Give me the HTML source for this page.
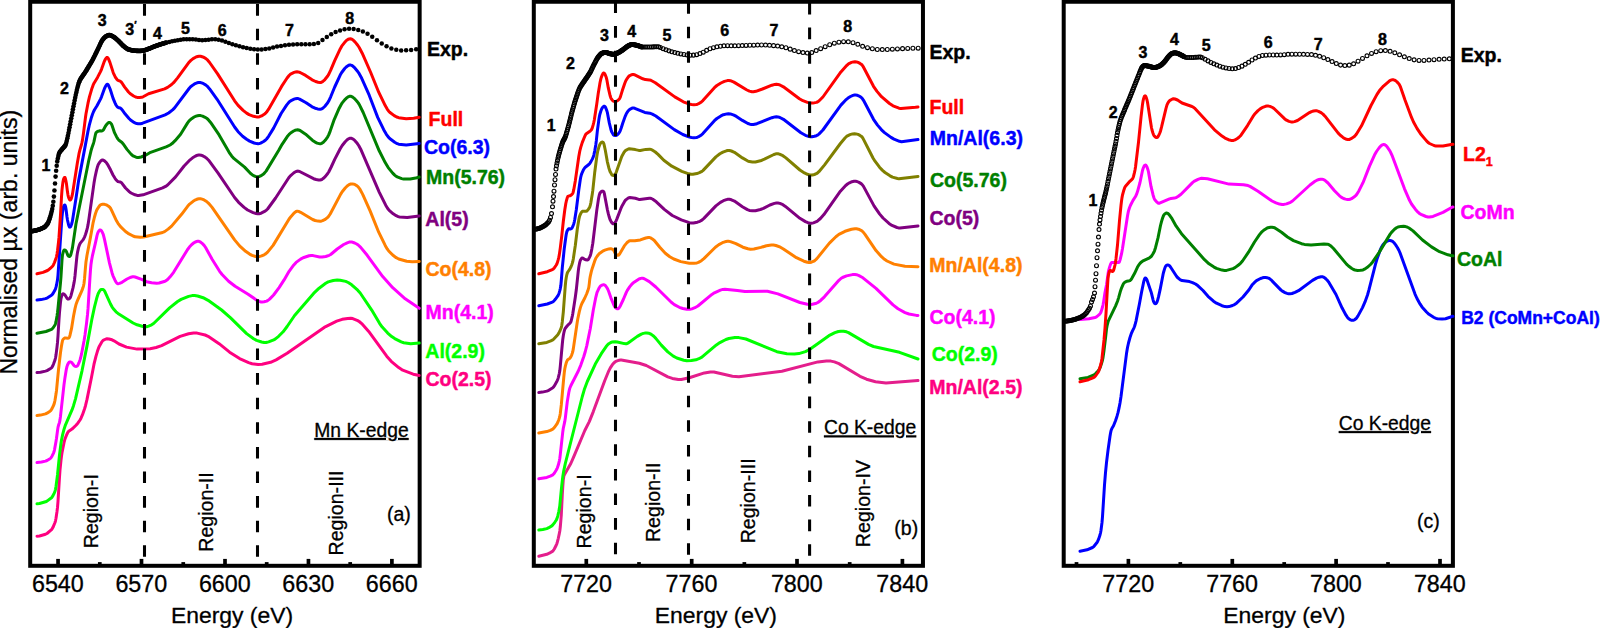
<!DOCTYPE html>
<html lang="en"><head><meta charset="utf-8"><title>XANES Mn and Co K-edge</title>
<style>html,body{margin:0;padding:0;background:#fff}body{width:1600px;height:628px;overflow:hidden}svg{display:block;font-family:'Liberation Sans', sans-serif}</style></head><body>
<svg width="1600" height="628" viewBox="0 0 1600 628">
<rect width="1600" height="628" fill="#fff"/>
<g id="panel-a">
<rect x="30.20" y="1.75" width="389.45" height="564.05" fill="none" stroke="#000" stroke-width="4.0"/>
<line x1="58.05" y1="565.80" x2="58.05" y2="558.90" stroke="#000" stroke-width="3.7"/>
<line x1="141.50" y1="565.80" x2="141.50" y2="558.90" stroke="#000" stroke-width="3.7"/>
<line x1="225.00" y1="565.80" x2="225.00" y2="558.90" stroke="#000" stroke-width="3.7"/>
<line x1="308.45" y1="565.80" x2="308.45" y2="558.90" stroke="#000" stroke-width="3.7"/>
<line x1="391.90" y1="565.80" x2="391.90" y2="558.90" stroke="#000" stroke-width="3.7"/>
<line x1="99.80" y1="565.80" x2="99.80" y2="562.10" stroke="#000" stroke-width="3.7"/>
<line x1="183.25" y1="565.80" x2="183.25" y2="562.10" stroke="#000" stroke-width="3.7"/>
<line x1="266.70" y1="565.80" x2="266.70" y2="562.10" stroke="#000" stroke-width="3.7"/>
<line x1="350.20" y1="565.80" x2="350.20" y2="562.10" stroke="#000" stroke-width="3.7"/>
<path d="M37.0 536.2 39.5 536.0 45.5 534.3 47.0 533.5 51.5 529.7 52.0 529.1 53.0 527.3 55.0 522.5 55.5 520.8 56.0 518.3 57.0 511.5 57.5 507.4 58.0 501.4 59.5 477.0 60.0 469.9 61.0 460.1 61.5 456.1 62.0 452.7 64.0 442.7 65.0 438.9 66.5 435.1 67.5 433.0 68.0 432.1 68.5 431.5 69.5 430.7 72.0 429.1 76.0 425.2 78.0 422.9 80.0 420.0 81.0 418.2 82.5 414.7 84.5 409.0 85.5 405.7 87.0 399.4 91.5 377.2 94.0 364.2 96.0 356.1 97.5 351.1 98.5 348.2 99.5 345.9 101.5 342.4 102.5 341.0 103.0 340.5 103.5 340.1 106.0 339.0 107.0 338.8 109.0 339.0 112.0 339.8 114.0 340.8 119.0 344.0 126.5 347.1 137.1 349.1 150.1 348.7 156.1 347.5 161.6 345.6 180.1 336.4 188.6 333.8 193.6 333.0 197.1 333.1 205.1 335.0 208.1 336.3 219.1 343.7 229.6 352.2 239.6 358.6 248.6 362.6 252.1 363.7 258.1 364.5 262.1 364.3 270.6 362.3 276.1 359.9 287.1 353.2 324.2 327.4 336.7 321.2 342.2 319.3 347.7 318.4 350.7 318.3 352.7 318.6 357.7 320.6 359.2 321.5 361.7 323.6 368.7 331.4 386.7 356.2 391.2 361.3 398.7 367.6 402.7 370.2 413.2 374.2 418.2 375.3 419.2 375.4" fill="none" stroke="#ff0080" stroke-width="3.00" stroke-linejoin="round" stroke-linecap="round"/>
<path d="M37.0 503.8 39.5 503.5 45.5 501.8 47.0 501.1 51.5 497.8 52.0 497.2 53.0 495.7 54.0 493.7 55.0 491.2 55.5 489.3 56.0 486.5 57.5 474.9 59.5 454.9 61.0 443.3 61.5 440.1 62.5 435.2 64.0 429.4 65.5 424.8 72.0 409.9 73.5 405.7 75.5 398.8 82.0 370.8 87.0 345.9 92.0 318.6 94.5 306.9 97.0 297.2 98.0 294.1 98.5 292.9 99.5 291.2 100.0 290.5 100.5 289.9 101.0 289.6 101.5 289.4 102.0 289.4 102.5 289.4 103.0 289.5 103.5 289.8 104.0 290.3 104.5 290.9 105.0 291.8 110.5 304.0 112.0 306.8 114.0 309.6 116.0 311.8 118.0 313.4 133.1 323.0 137.1 324.8 142.1 326.3 145.1 326.8 146.6 326.7 148.6 326.1 151.6 324.8 153.6 323.5 169.6 307.9 177.6 301.5 181.1 299.4 188.6 296.4 192.1 295.6 194.6 295.5 197.6 296.0 203.1 297.7 208.1 300.3 221.6 310.0 230.6 317.9 246.6 333.6 253.6 338.8 256.6 340.4 261.6 342.0 264.1 342.5 266.1 342.5 268.6 341.9 273.1 340.2 275.1 339.1 278.6 336.3 283.1 331.8 287.1 326.5 294.6 315.5 313.6 293.4 319.1 288.2 325.7 283.3 328.2 281.9 333.2 280.5 337.2 280.0 340.2 280.2 345.7 281.4 348.2 282.5 351.7 284.8 357.7 290.2 360.2 293.0 371.7 310.1 379.7 323.6 382.2 327.1 387.7 333.1 391.7 336.6 394.7 338.6 401.2 341.9 403.7 342.7 410.7 343.7 419.2 343.1" fill="none" stroke="#00ff00" stroke-width="3.00" stroke-linejoin="round" stroke-linecap="round"/>
<path d="M37.0 462.5 41.5 462.0 45.5 461.1 47.0 460.5 50.0 458.7 50.5 458.3 51.0 457.8 52.0 456.2 53.5 453.1 54.0 451.8 54.5 449.8 56.0 441.4 56.5 438.3 57.5 430.8 58.0 427.4 58.5 425.3 59.5 422.4 60.0 419.9 60.5 416.2 64.0 384.6 65.0 377.4 66.0 371.3 66.5 368.6 67.0 366.4 67.5 365.0 68.5 363.0 69.0 362.3 69.5 362.0 70.5 362.0 71.0 362.1 71.5 362.3 72.0 362.8 74.0 365.5 74.5 366.0 75.0 366.3 75.5 366.4 76.0 366.5 76.5 366.4 77.0 366.2 77.5 365.8 78.0 365.0 79.0 362.7 80.0 359.9 80.5 358.3 81.5 354.2 84.0 341.0 85.0 334.9 86.5 323.6 87.5 314.7 88.0 308.9 90.0 276.8 90.5 269.7 91.0 264.2 91.5 260.7 92.5 255.3 95.5 242.6 97.0 235.6 97.5 233.8 98.0 232.4 98.5 231.5 99.0 230.7 99.5 230.2 100.0 230.0 100.5 230.0 101.0 230.3 101.5 230.9 102.0 231.7 103.0 233.8 103.5 235.3 104.5 239.4 109.5 263.1 112.0 272.7 113.0 275.8 115.0 280.2 116.0 282.0 116.5 282.8 117.0 283.3 117.5 283.7 118.0 283.7 119.5 283.4 122.0 282.3 127.0 279.0 131.0 277.2 132.6 276.8 133.6 276.7 135.1 277.0 141.6 279.4 146.6 281.7 151.6 282.8 156.6 283.3 159.1 283.0 165.1 281.2 166.1 280.7 167.6 279.5 170.1 276.8 173.6 272.3 187.6 249.5 189.6 246.8 191.1 245.2 193.6 243.0 195.1 242.1 196.6 241.5 197.6 241.3 198.6 241.3 199.6 241.6 200.6 242.1 202.1 243.3 204.1 245.4 205.6 247.5 212.1 259.3 219.6 271.3 222.1 274.5 228.6 281.2 235.1 286.3 248.1 294.2 257.1 300.4 259.1 301.4 260.6 301.9 262.1 302.0 264.1 301.8 266.6 301.1 267.6 300.6 269.6 299.1 273.6 295.0 279.1 287.6 284.1 279.9 289.1 271.3 293.6 265.2 296.1 262.4 300.6 259.1 303.1 257.7 309.1 255.8 311.1 255.5 313.1 255.6 319.6 257.0 322.1 257.0 325.7 256.5 329.2 255.3 330.7 254.5 337.2 249.0 343.7 244.5 347.2 242.8 349.2 242.1 350.7 242.0 352.2 242.1 354.7 243.0 356.7 244.0 358.2 245.0 360.7 247.4 367.2 255.3 382.7 276.6 392.7 287.7 405.2 298.8 419.2 308.3" fill="none" stroke="#ff00ff" stroke-width="3.00" stroke-linejoin="round" stroke-linecap="round"/>
<path d="M37.0 415.5 40.5 415.1 45.5 413.9 47.0 413.2 50.0 411.2 50.5 410.8 51.0 410.2 52.0 408.6 53.5 405.5 54.0 404.3 54.5 402.5 55.0 400.2 56.0 394.1 56.5 390.5 58.5 369.7 60.5 352.5 61.5 345.9 62.0 343.1 62.5 340.7 63.0 339.5 64.0 338.5 64.5 338.2 65.0 338.0 65.5 337.9 68.0 338.2 68.5 338.1 69.0 337.8 69.5 336.8 70.0 335.2 71.5 328.7 73.5 316.3 75.0 308.6 76.0 304.5 77.0 301.7 82.0 290.4 83.0 287.6 83.5 285.9 84.0 283.5 84.5 278.9 85.5 266.9 86.0 261.7 87.0 255.2 90.5 237.1 93.0 223.2 94.5 217.0 95.5 213.5 96.5 210.7 97.0 209.6 99.0 206.5 100.0 205.3 100.5 204.8 101.0 204.6 102.5 204.3 104.0 204.3 105.5 204.6 107.0 205.2 108.5 206.2 110.0 207.5 110.5 208.2 111.5 210.1 116.5 220.8 118.0 223.3 120.5 226.7 125.5 231.5 128.0 233.3 133.1 236.0 135.1 236.8 140.1 237.3 143.6 237.0 162.6 232.5 164.6 231.6 168.1 229.1 171.6 226.1 181.6 214.3 187.6 206.3 189.6 204.1 193.1 201.3 195.6 199.8 197.6 199.0 199.1 198.7 200.6 198.8 202.1 199.1 204.1 199.9 206.6 201.5 208.6 203.3 212.1 207.4 234.6 239.9 239.6 245.9 245.6 251.3 249.6 254.1 252.1 255.4 255.6 256.5 257.6 256.8 259.1 256.6 261.6 255.9 264.1 254.8 265.6 253.9 267.6 252.1 273.1 245.4 289.1 219.0 291.1 216.4 294.1 213.1 295.1 212.2 296.1 211.5 296.6 211.3 297.1 211.2 297.6 211.2 298.6 211.4 300.6 212.3 312.6 219.5 315.1 220.5 318.1 221.1 320.1 221.3 321.1 221.2 322.6 220.7 324.7 219.7 327.7 217.4 328.7 216.3 330.2 214.0 340.7 194.1 342.2 191.7 345.2 188.0 347.2 186.0 348.7 184.9 349.7 184.4 350.7 184.0 351.7 183.9 352.7 183.9 353.7 184.1 355.2 184.7 356.7 185.6 357.7 186.4 358.7 187.5 360.2 189.7 362.7 194.4 370.2 211.1 378.7 232.2 385.2 245.4 387.2 248.9 388.7 251.0 392.7 255.0 396.2 257.7 398.7 259.0 406.7 261.3 412.2 261.8 419.2 261.4" fill="none" stroke="#ff8000" stroke-width="3.00" stroke-linejoin="round" stroke-linecap="round"/>
<path d="M37.0 372.5 40.5 372.2 45.5 371.1 47.0 370.6 51.0 368.2 51.5 367.8 52.0 367.2 52.5 366.3 53.5 364.1 55.0 360.0 55.5 358.0 56.0 355.1 57.0 347.1 57.5 342.4 58.0 335.9 59.0 319.2 59.5 312.4 60.5 302.1 61.0 298.5 61.5 296.7 62.0 295.2 62.5 294.1 63.0 293.8 63.5 293.9 64.0 294.2 64.5 294.5 65.0 295.0 67.0 298.2 67.5 298.8 68.0 299.1 68.5 299.1 69.0 298.9 69.5 298.5 70.0 298.0 70.5 297.1 71.0 295.6 73.0 287.9 74.0 282.9 74.5 279.9 75.0 275.9 76.5 260.3 77.0 255.7 77.5 252.4 78.5 247.9 79.0 246.2 79.5 244.8 80.0 243.7 80.5 242.9 83.0 239.9 83.5 239.2 84.5 237.1 85.5 234.5 86.5 231.3 87.5 227.4 88.0 224.9 89.0 218.6 94.0 183.1 95.0 177.3 96.5 170.4 97.5 166.7 98.0 165.2 98.5 164.1 100.0 161.9 101.0 160.7 101.5 160.3 102.0 160.0 102.5 160.0 103.5 160.3 104.5 160.9 105.5 161.8 106.5 162.8 107.5 164.3 110.5 169.8 113.0 175.0 115.0 178.3 116.5 180.3 117.5 181.3 118.0 181.6 119.0 181.8 120.0 181.9 120.5 182.1 121.0 182.3 122.0 183.3 125.5 188.0 129.5 191.8 131.0 193.0 135.1 194.8 137.1 195.4 138.6 195.5 143.1 194.8 162.6 187.9 165.6 186.4 167.6 185.0 175.6 176.9 184.1 166.0 190.1 159.8 192.6 157.8 195.6 156.0 197.6 155.2 198.6 155.0 199.6 155.0 201.1 155.2 203.1 156.0 205.1 157.1 206.6 158.2 208.6 160.2 218.1 173.2 234.6 197.5 238.6 202.3 244.1 207.4 247.6 210.0 253.1 212.6 256.1 213.5 257.6 213.8 259.1 213.7 261.1 213.2 265.1 211.2 266.1 210.4 267.6 209.0 275.6 198.0 288.6 178.0 290.1 176.1 293.6 173.0 295.1 172.0 296.1 171.5 297.1 171.2 298.1 171.1 299.6 171.5 313.6 178.7 316.1 179.5 318.6 180.0 320.1 180.0 321.1 179.8 322.1 179.3 323.1 178.6 325.2 176.6 327.7 173.5 328.7 172.0 331.2 167.0 334.7 159.4 340.2 148.7 342.2 145.5 345.2 141.7 346.7 140.2 348.2 139.0 349.2 138.5 350.2 138.2 351.2 138.3 352.2 138.6 353.2 139.2 354.7 140.4 357.2 143.3 358.7 145.5 360.7 149.2 379.2 192.1 385.7 205.2 387.7 208.5 389.2 210.4 393.2 213.8 396.2 215.7 398.2 216.6 399.7 217.0 407.2 217.6 419.2 215.9" fill="none" stroke="#800080" stroke-width="3.00" stroke-linejoin="round" stroke-linecap="round"/>
<path d="M37.0 333.2 46.0 331.5 51.5 329.4 52.0 329.0 53.0 328.0 55.0 325.0 55.5 323.7 56.0 321.7 57.0 315.9 57.5 312.4 58.0 308.2 60.5 282.6 61.0 276.5 62.0 259.8 62.5 254.9 63.0 252.8 63.5 251.2 64.0 250.2 64.5 250.0 65.0 250.2 65.5 250.4 66.0 250.9 66.5 251.8 67.5 254.5 68.0 255.5 68.5 256.1 69.0 256.4 69.5 256.5 70.0 256.2 70.5 255.5 71.0 254.0 72.0 249.9 72.5 247.4 76.0 223.8 89.0 159.3 91.0 150.8 92.0 147.5 93.5 143.2 94.0 141.4 95.5 134.3 96.0 132.8 96.5 132.2 97.5 131.5 98.5 131.1 100.0 130.7 102.0 130.9 102.5 130.7 103.0 130.3 103.5 129.7 105.5 126.1 106.0 125.3 107.5 123.5 108.5 122.6 109.0 122.4 109.5 122.4 110.0 122.6 110.5 123.0 111.0 123.5 111.5 124.2 112.0 125.3 114.5 132.7 116.5 136.7 118.0 139.1 119.0 140.3 122.0 142.5 123.0 143.7 127.0 149.4 131.0 154.1 132.6 155.5 133.6 156.2 136.1 157.2 137.6 157.5 138.6 157.5 141.1 157.0 145.6 155.2 150.6 152.3 166.1 146.9 170.1 145.0 172.1 143.6 175.1 140.7 180.6 134.3 187.6 122.9 189.1 120.9 191.6 118.7 194.1 117.0 196.1 116.1 197.6 115.7 199.1 115.5 200.6 115.6 202.6 116.1 205.1 117.3 206.6 118.2 208.1 119.5 210.6 122.4 219.1 134.9 229.1 152.3 231.6 155.9 234.1 158.7 244.6 167.1 250.6 173.5 252.1 174.7 254.1 175.9 255.6 176.5 257.1 176.7 258.1 176.7 259.1 176.5 260.6 175.9 263.6 173.9 264.6 172.9 266.1 171.1 278.6 150.5 282.1 144.3 287.1 136.8 289.1 134.4 290.6 133.0 293.6 131.0 295.1 130.3 296.6 129.9 297.6 129.8 298.6 130.0 300.1 130.5 305.6 134.2 312.6 140.4 315.1 142.1 317.1 143.1 319.1 143.6 320.1 143.8 320.6 143.7 321.6 143.4 322.6 142.8 323.6 142.0 325.2 140.3 327.7 136.8 328.7 134.9 330.2 131.1 334.2 119.6 339.2 108.2 341.2 104.5 342.2 102.9 345.2 99.3 346.7 97.9 347.7 97.1 348.7 96.6 349.7 96.3 350.7 96.3 351.7 96.6 352.7 97.1 354.2 98.3 356.7 101.0 358.2 102.9 359.7 105.3 363.2 112.5 379.2 150.8 385.2 162.6 388.2 167.6 392.7 173.1 394.7 175.1 396.2 176.3 397.2 176.9 401.7 178.6 403.7 179.1 410.2 179.0 415.7 178.1 419.2 177.0" fill="none" stroke="#008000" stroke-width="3.00" stroke-linejoin="round" stroke-linecap="round"/>
<path d="M37.0 300.0 41.0 299.6 45.5 298.6 47.5 297.8 51.5 295.3 52.0 294.8 53.0 293.5 55.0 290.0 55.5 288.9 56.0 287.2 56.5 285.2 57.5 279.9 58.0 275.1 61.5 223.9 62.0 217.2 62.5 212.4 63.0 209.2 63.5 206.8 64.0 205.5 64.5 205.0 65.0 205.2 65.5 206.3 66.0 209.0 67.0 217.0 67.5 220.1 68.5 224.5 69.0 226.1 69.5 227.0 70.0 227.2 70.5 226.8 71.0 225.8 71.5 224.5 72.0 222.7 72.5 220.4 76.0 198.3 78.5 181.4 88.0 131.1 89.5 124.3 91.5 117.2 92.5 114.2 93.5 111.7 94.5 109.8 97.0 105.8 100.5 99.1 101.5 96.8 104.5 88.5 105.5 86.4 106.0 85.5 106.5 84.8 107.0 84.3 107.5 84.3 108.0 84.6 108.5 85.4 110.0 88.8 111.0 91.7 113.0 98.1 115.0 102.9 116.0 105.0 117.0 106.5 117.5 107.0 118.0 107.4 119.0 107.8 120.0 108.0 120.5 108.2 121.0 108.6 122.0 109.7 125.0 113.8 129.0 118.5 130.5 119.9 134.1 122.4 135.6 123.2 136.6 123.6 138.1 123.8 140.6 123.7 142.6 123.2 165.1 114.9 168.6 113.0 172.6 109.9 174.6 107.9 189.1 88.5 190.6 86.8 193.1 84.9 195.1 83.6 197.1 82.8 198.6 82.5 200.1 82.5 201.6 82.9 203.6 83.7 205.6 84.9 207.1 86.1 209.6 88.9 217.1 99.3 234.6 127.0 238.1 131.7 242.6 136.2 246.6 139.3 249.6 141.1 254.1 143.0 256.6 143.6 258.1 143.8 259.1 143.6 260.6 143.1 263.6 141.5 265.6 140.0 266.6 139.0 268.6 136.3 273.6 128.1 281.1 113.5 286.6 105.1 288.6 102.6 290.1 101.2 291.1 100.6 294.1 99.2 295.6 98.7 297.1 98.5 298.1 98.6 299.6 99.1 306.1 102.7 312.1 106.8 315.1 108.2 317.6 108.9 320.1 109.3 321.1 109.1 322.1 108.6 323.1 108.0 324.7 106.5 327.7 102.8 328.7 101.1 330.7 96.8 334.7 87.0 340.2 75.1 341.7 72.5 344.7 68.5 346.2 67.0 347.7 65.8 348.7 65.3 349.7 65.0 350.7 65.1 351.7 65.4 352.7 66.0 354.2 67.3 357.7 71.5 359.2 73.7 361.7 78.3 369.2 95.2 377.7 117.4 383.7 129.7 386.2 134.1 388.2 136.9 389.7 138.5 394.7 142.3 397.2 143.7 398.7 144.2 406.2 145.1 419.2 143.4" fill="none" stroke="#0000ff" stroke-width="3.00" stroke-linejoin="round" stroke-linecap="round"/>
<path d="M37.0 273.8 43.0 272.4 47.5 270.5 48.5 269.9 50.5 268.2 52.5 266.2 53.0 265.6 53.5 264.7 54.5 262.5 56.0 258.2 56.5 256.6 57.0 254.0 57.5 250.7 58.5 242.2 59.0 237.2 60.5 214.8 61.5 196.8 62.0 189.9 62.5 185.4 63.0 181.8 63.5 179.4 64.0 178.2 64.5 177.4 65.0 177.5 65.5 179.0 66.0 181.3 66.5 184.1 67.5 192.1 68.0 195.1 68.5 197.0 69.0 198.5 69.5 199.6 70.0 200.0 70.5 199.8 71.0 199.1 71.5 197.9 72.0 196.2 72.5 193.9 73.5 187.6 77.5 161.9 79.0 153.7 80.0 149.7 81.5 144.5 82.0 142.4 82.5 139.9 83.5 133.1 85.5 117.2 86.0 113.8 88.0 103.2 89.5 96.7 92.0 88.2 93.0 85.4 94.0 83.2 97.5 77.4 100.5 71.6 101.5 69.3 104.0 62.2 104.5 61.0 105.5 59.0 106.0 58.3 106.5 57.7 107.0 57.4 107.5 57.5 108.0 58.0 108.5 58.9 110.0 62.6 113.0 71.9 113.5 73.3 115.0 76.4 116.0 78.2 117.0 79.5 117.5 80.0 118.0 80.4 120.0 81.2 120.5 81.4 121.0 81.8 122.0 83.0 124.5 86.9 128.5 92.0 130.0 93.5 133.6 96.0 135.6 97.0 137.1 97.4 139.6 97.5 141.6 97.3 143.1 96.8 148.6 93.8 164.6 88.9 167.6 87.4 171.6 84.5 173.6 82.7 177.6 77.9 189.1 62.2 190.6 60.6 193.1 58.6 195.6 57.2 197.6 56.5 199.1 56.2 200.6 56.3 202.1 56.7 204.1 57.5 205.6 58.4 207.1 59.6 209.6 62.5 217.6 73.9 234.6 100.8 238.1 105.4 243.1 110.4 246.6 113.1 249.1 114.6 253.6 116.3 256.6 116.9 258.1 117.0 259.6 116.7 261.6 115.9 264.6 114.0 265.6 113.2 266.6 112.1 268.6 109.2 281.6 86.4 287.1 78.0 289.1 75.5 290.1 74.5 291.1 73.8 294.1 72.4 295.6 72.0 297.1 71.8 298.1 71.9 300.1 72.5 305.6 75.4 312.1 79.8 315.6 81.5 318.1 82.2 320.1 82.5 321.1 82.4 322.1 81.9 323.1 81.2 324.7 79.8 327.7 76.0 328.7 74.4 330.7 70.2 334.7 60.7 340.2 48.9 341.7 46.2 344.7 42.3 346.2 40.7 347.2 39.9 348.2 39.2 349.2 38.9 350.2 38.8 351.2 39.0 352.2 39.4 353.2 40.2 355.2 42.1 357.7 45.2 359.2 47.5 362.2 53.2 370.7 72.5 378.7 92.2 385.2 105.6 387.2 109.1 388.7 111.2 389.7 112.2 394.2 115.6 396.7 117.0 398.7 117.7 406.2 118.7 413.7 118.2 419.2 117.2" fill="none" stroke="#ff0000" stroke-width="3.00" stroke-linejoin="round" stroke-linecap="round"/>
<g fill="#000">
<circle cx="31.50" cy="231.23" r="2.3"/><circle cx="32.06" cy="231.17" r="2.3"/><circle cx="32.62" cy="231.09" r="2.3"/><circle cx="33.18" cy="230.99" r="2.3"/><circle cx="33.74" cy="230.89" r="2.3"/><circle cx="34.30" cy="230.77" r="2.3"/><circle cx="34.86" cy="230.64" r="2.3"/><circle cx="35.42" cy="230.51" r="2.3"/><circle cx="35.98" cy="230.37" r="2.3"/><circle cx="36.54" cy="230.23" r="2.3"/><circle cx="37.10" cy="230.10" r="2.3"/><circle cx="37.66" cy="229.96" r="2.3"/><circle cx="38.22" cy="229.81" r="2.3"/><circle cx="38.78" cy="229.64" r="2.3"/><circle cx="39.34" cy="229.44" r="2.3"/><circle cx="39.90" cy="229.23" r="2.3"/><circle cx="40.46" cy="229.01" r="2.3"/><circle cx="41.02" cy="228.77" r="2.3"/><circle cx="41.58" cy="228.52" r="2.3"/><circle cx="42.14" cy="228.27" r="2.3"/><circle cx="42.70" cy="228.00" r="2.3"/><circle cx="43.26" cy="227.74" r="2.3"/><circle cx="43.82" cy="227.47" r="2.3"/><circle cx="44.38" cy="227.13" r="2.3"/><circle cx="44.94" cy="226.69" r="2.3"/><circle cx="45.50" cy="226.16" r="2.3"/><circle cx="46.06" cy="225.55" r="2.3"/><circle cx="46.62" cy="224.89" r="2.3"/><circle cx="47.18" cy="224.17" r="2.3"/><circle cx="47.74" cy="223.38" r="2.3"/><circle cx="48.30" cy="222.25" r="2.3"/><circle cx="48.86" cy="220.81" r="2.3"/><circle cx="49.42" cy="219.20" r="2.3"/><circle cx="49.98" cy="217.56" r="2.3"/><circle cx="50.54" cy="215.79" r="2.3"/><circle cx="51.10" cy="213.73" r="2.3"/><circle cx="51.66" cy="211.46" r="2.3"/><circle cx="52.22" cy="208.97" r="2.3"/><circle cx="52.78" cy="205.75" r="2.3"/><circle cx="53.34" cy="201.81" r="2.3"/><circle cx="53.90" cy="196.58" r="2.3"/><circle cx="54.46" cy="190.45" r="2.3"/><circle cx="55.02" cy="183.48" r="2.3"/><circle cx="55.58" cy="176.62" r="2.3"/><circle cx="56.14" cy="170.79" r="2.3"/><circle cx="56.70" cy="165.79" r="2.3"/><circle cx="57.26" cy="161.40" r="2.3"/><circle cx="57.82" cy="158.44" r="2.3"/><circle cx="58.38" cy="155.90" r="2.3"/><circle cx="58.94" cy="153.83" r="2.3"/><circle cx="59.50" cy="152.50" r="2.3"/><circle cx="60.06" cy="151.69" r="2.3"/><circle cx="60.62" cy="150.97" r="2.3"/><circle cx="61.18" cy="150.30" r="2.3"/><circle cx="61.74" cy="149.66" r="2.3"/><circle cx="62.30" cy="149.00" r="2.3"/><circle cx="62.86" cy="148.32" r="2.3"/><circle cx="63.42" cy="147.69" r="2.3"/><circle cx="63.98" cy="147.07" r="2.3"/><circle cx="64.54" cy="146.40" r="2.3"/><circle cx="65.10" cy="145.64" r="2.3"/><circle cx="65.66" cy="144.68" r="2.3"/><circle cx="66.22" cy="143.00" r="2.3"/><circle cx="66.78" cy="140.71" r="2.3"/><circle cx="67.34" cy="138.20" r="2.3"/><circle cx="67.90" cy="135.69" r="2.3"/><circle cx="68.46" cy="132.98" r="2.3"/><circle cx="69.02" cy="130.11" r="2.3"/><circle cx="69.58" cy="127.19" r="2.3"/><circle cx="70.14" cy="124.27" r="2.3"/><circle cx="70.70" cy="121.31" r="2.3"/><circle cx="71.26" cy="118.28" r="2.3"/><circle cx="71.82" cy="115.22" r="2.3"/><circle cx="72.38" cy="112.18" r="2.3"/><circle cx="72.94" cy="109.18" r="2.3"/><circle cx="73.50" cy="106.26" r="2.3"/><circle cx="74.06" cy="103.44" r="2.3"/><circle cx="74.62" cy="100.61" r="2.3"/><circle cx="75.18" cy="97.81" r="2.3"/><circle cx="75.74" cy="95.07" r="2.3"/><circle cx="76.30" cy="92.46" r="2.3"/><circle cx="76.86" cy="90.01" r="2.3"/><circle cx="77.42" cy="87.80" r="2.3"/><circle cx="77.98" cy="85.77" r="2.3"/><circle cx="78.54" cy="83.86" r="2.3"/><circle cx="79.10" cy="82.14" r="2.3"/><circle cx="79.66" cy="80.70" r="2.3"/><circle cx="80.22" cy="79.60" r="2.3"/><circle cx="80.78" cy="78.64" r="2.3"/><circle cx="81.34" cy="77.76" r="2.3"/><circle cx="81.90" cy="76.93" r="2.3"/><circle cx="82.46" cy="76.15" r="2.3"/><circle cx="83.02" cy="75.37" r="2.3"/><circle cx="83.58" cy="74.60" r="2.3"/><circle cx="84.14" cy="73.81" r="2.3"/><circle cx="84.70" cy="72.97" r="2.3"/><circle cx="85.26" cy="72.08" r="2.3"/><circle cx="85.82" cy="71.19" r="2.3"/><circle cx="86.38" cy="70.29" r="2.3"/><circle cx="86.94" cy="69.39" r="2.3"/><circle cx="87.50" cy="68.49" r="2.3"/><circle cx="88.06" cy="67.58" r="2.3"/><circle cx="88.62" cy="66.67" r="2.3"/><circle cx="89.18" cy="65.74" r="2.3"/><circle cx="89.74" cy="64.81" r="2.3"/><circle cx="90.30" cy="63.87" r="2.3"/><circle cx="90.86" cy="62.91" r="2.3"/><circle cx="91.42" cy="61.93" r="2.3"/><circle cx="91.98" cy="60.94" r="2.3"/><circle cx="92.54" cy="59.93" r="2.3"/><circle cx="93.10" cy="58.88" r="2.3"/><circle cx="93.66" cy="57.80" r="2.3"/><circle cx="94.22" cy="56.69" r="2.3"/><circle cx="94.78" cy="55.56" r="2.3"/><circle cx="95.34" cy="54.41" r="2.3"/><circle cx="95.90" cy="53.26" r="2.3"/><circle cx="96.46" cy="52.11" r="2.3"/><circle cx="97.02" cy="50.97" r="2.3"/><circle cx="97.58" cy="49.84" r="2.3"/><circle cx="98.14" cy="48.68" r="2.3"/><circle cx="98.70" cy="47.47" r="2.3"/><circle cx="99.26" cy="46.24" r="2.3"/><circle cx="99.82" cy="45.01" r="2.3"/><circle cx="100.38" cy="43.81" r="2.3"/><circle cx="100.94" cy="42.67" r="2.3"/><circle cx="101.50" cy="41.61" r="2.3"/><circle cx="102.06" cy="40.66" r="2.3"/><circle cx="102.62" cy="39.83" r="2.3"/><circle cx="103.18" cy="39.10" r="2.3"/><circle cx="103.74" cy="38.42" r="2.3"/><circle cx="104.30" cy="37.81" r="2.3"/><circle cx="104.86" cy="37.27" r="2.3"/><circle cx="105.42" cy="36.81" r="2.3"/><circle cx="105.98" cy="36.41" r="2.3"/><circle cx="106.54" cy="36.08" r="2.3"/><circle cx="107.10" cy="35.75" r="2.3"/><circle cx="107.66" cy="35.44" r="2.3"/><circle cx="108.22" cy="35.18" r="2.3"/><circle cx="108.78" cy="35.03" r="2.3"/><circle cx="109.34" cy="35.01" r="2.3"/><circle cx="109.90" cy="35.09" r="2.3"/><circle cx="110.46" cy="35.24" r="2.3"/><circle cx="111.02" cy="35.46" r="2.3"/><circle cx="111.58" cy="35.72" r="2.3"/><circle cx="112.14" cy="36.02" r="2.3"/><circle cx="112.70" cy="36.35" r="2.3"/><circle cx="113.26" cy="36.69" r="2.3"/><circle cx="113.82" cy="37.04" r="2.3"/><circle cx="114.38" cy="37.42" r="2.3"/><circle cx="114.94" cy="37.84" r="2.3"/><circle cx="115.50" cy="38.29" r="2.3"/><circle cx="116.06" cy="38.77" r="2.3"/><circle cx="116.62" cy="39.27" r="2.3"/><circle cx="117.18" cy="39.79" r="2.3"/><circle cx="117.74" cy="40.31" r="2.3"/><circle cx="118.30" cy="40.83" r="2.3"/><circle cx="118.86" cy="41.35" r="2.3"/><circle cx="119.42" cy="41.90" r="2.3"/><circle cx="119.98" cy="42.47" r="2.3"/><circle cx="120.54" cy="43.06" r="2.3"/><circle cx="121.10" cy="43.66" r="2.3"/><circle cx="121.66" cy="44.26" r="2.3"/><circle cx="122.22" cy="44.84" r="2.3"/><circle cx="122.78" cy="45.39" r="2.3"/><circle cx="123.34" cy="45.90" r="2.3"/><circle cx="123.90" cy="46.37" r="2.3"/><circle cx="124.46" cy="46.82" r="2.3"/><circle cx="125.02" cy="47.27" r="2.3"/><circle cx="125.58" cy="47.71" r="2.3"/><circle cx="126.14" cy="48.12" r="2.3"/><circle cx="126.70" cy="48.50" r="2.3"/><circle cx="127.26" cy="48.84" r="2.3"/><circle cx="127.82" cy="49.14" r="2.3"/><circle cx="128.38" cy="49.38" r="2.3"/><circle cx="128.94" cy="49.56" r="2.3"/><circle cx="129.50" cy="49.71" r="2.3"/><circle cx="130.06" cy="49.87" r="2.3"/><circle cx="130.62" cy="50.01" r="2.3"/><circle cx="131.18" cy="50.15" r="2.3"/><circle cx="131.74" cy="50.27" r="2.3"/><circle cx="132.30" cy="50.39" r="2.3"/><circle cx="132.86" cy="50.49" r="2.3"/><circle cx="133.42" cy="50.58" r="2.3"/><circle cx="133.98" cy="50.65" r="2.3"/><circle cx="134.54" cy="50.71" r="2.3"/><circle cx="135.10" cy="50.76" r="2.3"/><circle cx="135.66" cy="50.79" r="2.3"/><circle cx="136.22" cy="50.83" r="2.3"/><circle cx="136.78" cy="50.86" r="2.3"/><circle cx="137.34" cy="50.89" r="2.3"/><circle cx="137.90" cy="50.91" r="2.3"/><circle cx="138.46" cy="50.92" r="2.3"/><circle cx="139.02" cy="50.93" r="2.3"/><circle cx="139.58" cy="50.93" r="2.3"/><circle cx="140.14" cy="50.92" r="2.3"/><circle cx="140.70" cy="50.90" r="2.3"/><circle cx="141.26" cy="50.87" r="2.3"/><circle cx="141.82" cy="50.82" r="2.3"/><circle cx="142.38" cy="50.76" r="2.3"/><circle cx="142.94" cy="50.69" r="2.3"/><circle cx="143.50" cy="50.57" r="2.3"/><circle cx="144.06" cy="50.43" r="2.3"/><circle cx="144.62" cy="50.27" r="2.3"/><circle cx="145.18" cy="50.08" r="2.3"/><circle cx="145.74" cy="49.89" r="2.3"/><circle cx="146.30" cy="49.68" r="2.3"/><circle cx="146.86" cy="49.48" r="2.3"/><circle cx="147.42" cy="49.28" r="2.3"/><circle cx="147.98" cy="49.08" r="2.3"/><circle cx="148.54" cy="48.87" r="2.3"/><circle cx="149.10" cy="48.65" r="2.3"/><circle cx="149.66" cy="48.42" r="2.3"/><circle cx="150.22" cy="48.19" r="2.3"/><circle cx="150.78" cy="47.96" r="2.3"/><circle cx="151.34" cy="47.72" r="2.3"/><circle cx="151.90" cy="47.48" r="2.3"/><circle cx="152.46" cy="47.25" r="2.3"/><circle cx="153.02" cy="47.02" r="2.3"/><circle cx="153.58" cy="46.79" r="2.3"/><circle cx="154.14" cy="46.57" r="2.3"/><circle cx="154.70" cy="46.36" r="2.3"/><circle cx="155.26" cy="46.16" r="2.3"/><circle cx="155.82" cy="45.96" r="2.3"/><circle cx="156.38" cy="45.76" r="2.3"/><circle cx="156.94" cy="45.56" r="2.3"/><circle cx="157.50" cy="45.36" r="2.3"/><circle cx="158.06" cy="45.16" r="2.3"/><circle cx="158.62" cy="44.97" r="2.3"/><circle cx="159.18" cy="44.78" r="2.3"/><circle cx="159.74" cy="44.59" r="2.3"/><circle cx="160.30" cy="44.41" r="2.3"/><circle cx="160.86" cy="44.22" r="2.3"/><circle cx="161.42" cy="44.04" r="2.3"/><circle cx="161.98" cy="43.87" r="2.3"/><circle cx="162.54" cy="43.70" r="2.3"/><circle cx="163.10" cy="43.53" r="2.3"/><circle cx="163.66" cy="43.37" r="2.3"/><circle cx="164.22" cy="43.21" r="2.3"/><circle cx="164.78" cy="43.06" r="2.3"/><circle cx="165.34" cy="42.91" r="2.3"/><circle cx="165.90" cy="42.77" r="2.3"/><circle cx="166.46" cy="42.62" r="2.25"/><circle cx="169.24" cy="41.95" r="2.25"/><circle cx="172.06" cy="41.32" r="2.25"/><circle cx="174.91" cy="40.77" r="2.25"/><circle cx="177.80" cy="40.22" r="2.25"/><circle cx="180.73" cy="39.70" r="2.25"/><circle cx="183.69" cy="39.33" r="2.25"/><circle cx="186.68" cy="39.21" r="2.25"/><circle cx="189.71" cy="39.24" r="2.25"/><circle cx="192.78" cy="39.37" r="2.25"/><circle cx="195.88" cy="39.57" r="2.25"/><circle cx="199.02" cy="39.95" r="2.25"/><circle cx="202.19" cy="40.24" r="2.25"/><circle cx="205.40" cy="40.10" r="2.25"/><circle cx="208.65" cy="39.65" r="2.25"/><circle cx="211.92" cy="39.28" r="2.25"/><circle cx="215.24" cy="39.32" r="2.25"/><circle cx="218.59" cy="39.75" r="2.25"/><circle cx="221.98" cy="40.50" r="2.25"/><circle cx="225.40" cy="41.74" r="2.25"/><circle cx="228.85" cy="42.95" r="2.25"/><circle cx="232.35" cy="44.13" r="2.25"/><circle cx="235.87" cy="45.27" r="2.25"/><circle cx="239.44" cy="46.30" r="2.25"/><circle cx="243.04" cy="47.28" r="2.25"/><circle cx="246.67" cy="48.10" r="2.25"/><circle cx="250.34" cy="48.73" r="2.25"/><circle cx="254.05" cy="49.26" r="2.25"/><circle cx="257.79" cy="49.51" r="2.25"/><circle cx="261.56" cy="49.40" r="2.25"/><circle cx="265.38" cy="49.04" r="2.25"/><circle cx="269.22" cy="48.45" r="2.25"/><circle cx="273.11" cy="47.51" r="2.25"/><circle cx="277.03" cy="46.59" r="2.25"/><circle cx="280.98" cy="45.89" r="2.25"/><circle cx="284.97" cy="45.29" r="2.25"/><circle cx="289.00" cy="44.85" r="2.25"/><circle cx="293.06" cy="44.49" r="2.25"/><circle cx="297.15" cy="44.26" r="2.25"/><circle cx="301.29" cy="44.22" r="2.25"/><circle cx="305.45" cy="44.25" r="2.25"/><circle cx="309.66" cy="44.21" r="2.25"/><circle cx="313.89" cy="43.98" r="2.25"/><circle cx="318.17" cy="43.06" r="2.25"/><circle cx="322.48" cy="40.01" r="2.25"/><circle cx="326.82" cy="37.05" r="2.25"/><circle cx="331.20" cy="34.31" r="2.25"/><circle cx="335.62" cy="32.00" r="2.25"/><circle cx="340.07" cy="30.41" r="2.25"/><circle cx="344.56" cy="29.32" r="2.25"/><circle cx="349.08" cy="28.80" r="2.25"/><circle cx="353.64" cy="28.98" r="2.25"/><circle cx="358.24" cy="29.93" r="2.25"/><circle cx="362.87" cy="31.56" r="2.25"/><circle cx="367.53" cy="33.82" r="2.25"/><circle cx="372.23" cy="36.82" r="2.25"/><circle cx="376.97" cy="40.32" r="2.25"/><circle cx="381.74" cy="43.60" r="2.25"/><circle cx="386.55" cy="46.31" r="2.25"/><circle cx="391.39" cy="48.41" r="2.25"/><circle cx="396.27" cy="49.75" r="2.25"/><circle cx="401.18" cy="50.47" r="2.25"/><circle cx="406.13" cy="50.34" r="2.25"/><circle cx="411.12" cy="49.88" r="2.25"/><circle cx="416.14" cy="49.18" r="2.25"/>
</g>
<line x1="144.50" y1="4.10" x2="144.50" y2="557.30" stroke="#000" stroke-width="3.05" stroke-dasharray="11.55 13.05"/>
<line x1="257.50" y1="4.10" x2="257.50" y2="557.30" stroke="#000" stroke-width="3.05" stroke-dasharray="11.55 13.05"/>
<text x="57.85" y="592.10" font-size="23.30" font-weight="normal" fill="#000" text-anchor="middle" stroke="#000" stroke-width="0.3" stroke-linejoin="round">6540</text>
<text x="141.30" y="592.10" font-size="23.30" font-weight="normal" fill="#000" text-anchor="middle" stroke="#000" stroke-width="0.3" stroke-linejoin="round">6570</text>
<text x="224.80" y="592.10" font-size="23.30" font-weight="normal" fill="#000" text-anchor="middle" stroke="#000" stroke-width="0.3" stroke-linejoin="round">6600</text>
<text x="308.25" y="592.10" font-size="23.30" font-weight="normal" fill="#000" text-anchor="middle" stroke="#000" stroke-width="0.3" stroke-linejoin="round">6630</text>
<text x="391.70" y="592.10" font-size="23.30" font-weight="normal" fill="#000" text-anchor="middle" stroke="#000" stroke-width="0.3" stroke-linejoin="round">6660</text>
<text x="232.00" y="623.20" font-size="22.90" font-weight="normal" fill="#000" text-anchor="middle" stroke="#000" stroke-width="0.3" stroke-linejoin="round">Energy (eV)</text>
<text transform="translate(16.6 374.6) rotate(-90)" font-size="23.1" fill="#000" stroke="#000" stroke-width="0.3">Normalised µx (arb. units)</text>
<text transform="translate(98.20 511.20) rotate(-90)" font-size="19.60" text-anchor="middle" fill="#000" stroke="#000" stroke-width="0.3">Region-I</text>
<text transform="translate(212.50 512.00) rotate(-90)" font-size="19.60" text-anchor="middle" fill="#000" stroke="#000" stroke-width="0.3">Region-II</text>
<text transform="translate(343.10 513.00) rotate(-90)" font-size="19.60" text-anchor="middle" fill="#000" stroke="#000" stroke-width="0.3">Region-III</text>
<text x="387.00" y="521.40" font-size="19.50" font-weight="normal" fill="#000" text-anchor="start" stroke="#000" stroke-width="0.3" stroke-linejoin="round">(a)</text>
<text x="314.30" y="437.00" font-size="19.30" font-weight="normal" fill="#000" text-anchor="start" text-decoration="underline" stroke="#000" stroke-width="0.3" stroke-linejoin="round">Mn K-edge</text>
<text x="102.30" y="25.80" font-size="16.00" font-weight="bold" fill="#000" text-anchor="middle" stroke="#000" stroke-width="0.45" stroke-linejoin="round">3</text>
<text x="157.50" y="38.80" font-size="16.00" font-weight="bold" fill="#000" text-anchor="middle" stroke="#000" stroke-width="0.45" stroke-linejoin="round">4</text>
<text x="185.50" y="33.80" font-size="16.00" font-weight="bold" fill="#000" text-anchor="middle" stroke="#000" stroke-width="0.45" stroke-linejoin="round">5</text>
<text x="222.30" y="35.80" font-size="16.00" font-weight="bold" fill="#000" text-anchor="middle" stroke="#000" stroke-width="0.45" stroke-linejoin="round">6</text>
<text x="289.40" y="36.20" font-size="16.00" font-weight="bold" fill="#000" text-anchor="middle" stroke="#000" stroke-width="0.45" stroke-linejoin="round">7</text>
<text x="349.80" y="23.80" font-size="16.00" font-weight="bold" fill="#000" text-anchor="middle" stroke="#000" stroke-width="0.45" stroke-linejoin="round">8</text>
<text x="64.50" y="93.80" font-size="16.00" font-weight="bold" fill="#000" text-anchor="middle" stroke="#000" stroke-width="0.45" stroke-linejoin="round">2</text>
<text x="46.00" y="171.20" font-size="16.00" font-weight="bold" fill="#000" text-anchor="middle" stroke="#000" stroke-width="0.45" stroke-linejoin="round">1</text>
<text x="131.00" y="35.00" font-size="16.00" font-weight="bold" fill="#000" text-anchor="middle" stroke="#000" stroke-width="0.45" stroke-linejoin="round">3<tspan font-size="10" dy="-6">′</tspan></text>
<text x="427.00" y="56.10" font-size="19.50" font-weight="bold" fill="#000" text-anchor="start" stroke="#000" stroke-width="0.45" stroke-linejoin="round">Exp.</text>
<text x="428.60" y="125.70" font-size="19.50" font-weight="bold" fill="#ff0000" text-anchor="start" stroke="#ff0000" stroke-width="0.45" stroke-linejoin="round">Full</text>
<text x="424.00" y="154.40" font-size="19.50" font-weight="bold" fill="#0000ff" text-anchor="start" stroke="#0000ff" stroke-width="0.45" stroke-linejoin="round">Co(6.3)</text>
<text x="426.00" y="184.00" font-size="19.50" font-weight="bold" fill="#008000" text-anchor="start" stroke="#008000" stroke-width="0.45" stroke-linejoin="round">Mn(5.76)</text>
<text x="425.30" y="226.00" font-size="19.50" font-weight="bold" fill="#800080" text-anchor="start" stroke="#800080" stroke-width="0.45" stroke-linejoin="round">Al(5)</text>
<text x="425.50" y="275.50" font-size="19.50" font-weight="bold" fill="#ff8000" text-anchor="start" stroke="#ff8000" stroke-width="0.45" stroke-linejoin="round">Co(4.8)</text>
<text x="425.50" y="318.50" font-size="19.50" font-weight="bold" fill="#ff00ff" text-anchor="start" stroke="#ff00ff" stroke-width="0.45" stroke-linejoin="round">Mn(4.1)</text>
<text x="425.30" y="357.60" font-size="19.50" font-weight="bold" fill="#00ff00" text-anchor="start" stroke="#00ff00" stroke-width="0.45" stroke-linejoin="round">Al(2.9)</text>
<text x="425.50" y="386.30" font-size="19.50" font-weight="bold" fill="#ff0080" text-anchor="start" stroke="#ff0080" stroke-width="0.45" stroke-linejoin="round">Co(2.5)</text>
</g>
<g id="panel-b">
<path d="M538.8 556.2 546.8 554.3 549.3 553.2 552.8 551.1 553.3 550.5 554.3 549.0 556.3 545.0 556.8 543.8 557.3 542.2 558.3 538.3 559.3 533.6 559.8 531.0 560.3 526.8 561.3 514.8 562.3 494.1 562.8 486.1 563.3 479.7 563.8 476.2 564.8 473.9 570.8 463.5 573.8 456.7 584.8 430.5 589.3 421.6 593.3 411.6 604.8 380.5 608.8 370.8 610.3 367.8 612.3 364.8 613.8 363.1 614.8 362.1 615.8 361.4 619.3 360.2 620.3 360.0 621.3 360.0 639.3 363.2 646.3 365.5 667.8 376.8 672.3 378.4 678.3 379.5 681.3 379.5 689.3 377.8 704.4 372.9 710.4 372.0 713.9 372.0 732.4 376.2 738.9 376.8 781.9 371.3 817.9 361.9 826.4 361.0 830.9 361.1 834.4 361.9 838.9 363.6 860.0 376.3 866.5 379.2 875.5 381.7 886.0 383.0 918.0 380.6" fill="none" stroke="#e41e8c" stroke-width="3.00" stroke-linejoin="round" stroke-linecap="round"/>
<path d="M538.8 530.0 542.8 529.5 546.8 528.6 548.8 527.7 551.8 525.9 552.8 524.9 554.8 522.3 556.3 520.0 556.8 519.0 557.3 517.6 557.8 515.9 558.8 511.5 559.3 508.9 559.8 505.6 561.3 489.9 562.3 480.6 562.8 476.6 563.8 470.6 565.3 463.5 582.3 396.5 584.3 389.6 587.3 381.5 595.3 364.1 601.3 353.7 606.8 345.7 607.8 344.6 608.8 343.7 610.8 342.5 611.8 342.1 615.3 341.8 617.3 342.0 624.3 343.6 625.8 343.8 626.8 343.7 627.8 343.2 637.3 336.4 641.3 334.1 643.3 333.4 644.8 333.1 646.8 333.0 648.8 333.3 649.8 333.6 651.3 334.4 653.8 336.3 655.8 338.4 661.3 345.1 667.8 351.9 673.3 356.1 676.8 358.0 683.8 360.2 686.8 360.7 691.4 360.6 695.9 359.8 698.9 358.7 701.9 357.1 705.4 354.2 716.4 344.9 719.9 342.6 725.9 339.5 728.9 338.5 734.9 337.6 738.9 337.6 745.9 339.0 776.9 351.7 786.9 353.7 794.4 354.0 798.9 353.6 805.4 351.6 809.9 349.2 828.9 335.7 834.9 332.7 838.4 331.5 840.9 331.2 843.5 331.2 846.5 331.8 848.5 332.6 868.5 344.4 873.5 346.5 899.5 352.3 918.0 359.0" fill="none" stroke="#00ff00" stroke-width="3.00" stroke-linejoin="round" stroke-linecap="round"/>
<path d="M538.8 478.8 546.8 477.4 550.3 476.1 552.8 474.8 553.3 474.4 554.3 473.2 556.3 470.0 556.8 469.1 557.3 468.0 558.3 465.1 559.3 461.1 559.8 458.5 560.3 454.4 562.8 431.7 563.3 428.3 564.8 421.4 565.3 418.1 567.3 401.5 568.8 392.5 569.3 390.1 569.8 388.2 570.8 385.7 578.3 371.0 580.8 365.1 583.8 356.5 585.3 351.5 586.8 345.6 590.3 328.5 593.3 310.0 595.8 297.3 596.8 293.3 597.3 291.8 598.8 288.6 599.8 286.9 600.3 286.3 600.8 285.8 601.8 285.2 602.8 284.9 603.3 284.8 603.8 284.8 604.3 284.9 604.8 285.1 605.3 285.5 605.8 286.1 606.8 287.5 607.8 289.3 608.8 291.8 610.8 297.6 613.3 303.8 614.3 305.9 614.8 306.7 615.8 307.9 616.3 308.3 616.8 308.6 617.3 308.8 617.8 308.8 618.3 308.6 618.8 308.2 619.3 307.6 620.3 305.9 623.3 299.5 626.3 292.3 627.3 290.3 629.8 286.6 631.8 284.2 633.3 282.8 638.3 279.4 639.8 278.7 640.8 278.4 641.8 278.2 642.8 278.3 644.3 278.7 649.3 281.6 655.8 287.0 671.3 302.3 674.3 304.6 679.3 307.3 682.8 308.5 686.8 309.2 689.8 309.3 691.9 308.9 694.9 307.7 697.9 306.0 711.9 294.4 714.4 292.8 720.4 290.1 722.9 289.4 724.9 289.2 737.4 290.4 744.9 291.5 767.4 291.3 777.9 293.9 799.9 302.5 807.4 304.2 810.4 304.5 812.4 304.3 816.4 303.2 817.9 302.5 820.9 300.2 824.4 296.8 838.9 280.3 840.9 278.5 842.5 277.5 846.5 275.9 852.5 274.6 855.0 274.5 856.5 274.7 859.0 275.6 862.0 277.2 876.0 288.4 893.0 304.9 898.0 308.8 905.0 312.6 909.0 314.0 916.5 315.4 918.0 315.5" fill="none" stroke="#ff00ff" stroke-width="3.00" stroke-linejoin="round" stroke-linecap="round"/>
<path d="M538.8 433.0 546.8 431.6 550.3 430.4 552.8 429.1 553.3 428.7 554.3 427.6 556.8 424.2 557.8 422.3 558.8 419.7 559.3 418.2 559.8 416.4 560.3 413.4 561.3 404.9 563.8 377.1 564.3 372.4 564.8 368.7 565.3 366.4 566.3 362.7 566.8 361.3 567.3 360.3 567.8 359.7 568.3 359.3 569.3 358.7 569.8 358.3 570.3 357.6 570.8 356.8 571.3 355.8 571.8 354.6 572.3 353.2 572.8 351.5 573.3 348.9 577.3 321.7 577.8 318.7 579.3 311.6 580.3 307.9 581.3 304.9 582.3 302.7 584.8 298.0 586.8 293.5 587.8 290.8 588.8 287.4 589.3 283.6 589.8 278.9 590.3 276.1 591.3 271.7 592.3 268.2 594.8 260.7 595.8 258.3 597.3 256.0 598.8 254.1 599.8 253.2 603.3 250.8 604.8 250.1 608.8 248.9 610.3 248.7 611.3 248.8 612.8 249.4 613.3 249.8 613.8 250.5 614.8 252.6 615.3 253.5 616.3 254.5 616.8 254.9 617.3 255.2 617.8 255.3 618.3 255.2 618.8 255.0 619.3 254.4 624.3 245.9 626.8 242.9 627.8 241.9 628.8 241.2 629.3 240.9 629.8 240.8 634.8 240.8 640.3 239.9 645.8 238.0 648.3 237.6 649.3 237.5 649.8 237.6 650.8 237.9 652.3 238.9 654.3 240.5 659.8 247.3 665.3 253.2 669.8 256.7 673.8 259.0 680.8 261.6 689.3 263.2 693.9 263.2 696.9 262.9 698.4 262.4 701.4 260.7 703.9 258.6 715.4 247.2 718.9 244.6 722.4 242.7 724.9 241.8 727.4 241.3 728.4 241.2 730.4 241.6 735.9 243.6 742.9 247.2 747.9 248.8 750.4 249.2 753.9 249.0 760.9 247.4 766.4 245.7 771.4 245.0 773.4 245.0 775.9 245.5 780.4 247.2 783.4 249.0 796.4 257.7 803.9 261.2 807.4 262.3 808.9 262.5 809.9 262.5 811.4 262.2 813.9 261.2 814.9 260.5 816.9 258.6 829.4 243.1 835.9 236.7 838.9 234.4 845.0 231.3 851.5 229.3 855.0 228.8 856.5 228.8 858.5 229.2 861.0 230.3 862.0 231.0 863.0 231.9 865.0 234.4 876.0 250.6 881.5 256.7 884.5 259.3 887.0 261.0 894.0 264.1 905.0 266.3 918.0 266.8" fill="none" stroke="#ff8000" stroke-width="3.00" stroke-linejoin="round" stroke-linecap="round"/>
<path d="M538.8 392.5 542.3 392.1 546.8 391.1 548.8 390.3 552.8 387.8 553.3 387.3 554.3 385.9 556.8 381.6 557.3 380.5 557.8 379.2 558.3 377.6 559.3 373.6 559.8 370.8 560.3 366.1 562.3 344.0 562.8 339.2 563.3 335.8 563.8 333.0 564.3 330.8 564.8 329.2 565.3 328.3 567.3 325.8 568.3 324.7 569.8 323.4 570.3 322.8 570.8 322.0 571.3 320.5 572.3 316.1 572.8 313.6 575.3 297.2 576.3 289.8 578.3 270.9 578.8 267.3 579.3 264.5 579.8 262.1 580.3 260.4 581.3 258.8 581.8 258.2 582.3 258.0 582.8 258.1 584.8 259.4 585.8 259.8 587.3 260.0 587.8 259.9 588.3 259.5 588.8 258.7 589.8 256.7 590.3 255.6 590.8 253.9 591.8 249.1 592.8 243.2 596.8 210.1 598.3 200.1 598.8 197.3 599.3 195.0 599.8 193.4 600.3 192.6 600.8 192.1 601.3 191.6 601.8 191.3 602.3 191.2 602.8 191.1 603.3 191.3 603.8 191.8 604.3 193.4 607.3 209.3 608.3 213.7 609.3 217.3 609.8 218.9 610.3 220.1 611.3 221.9 611.8 222.7 612.3 223.3 612.8 223.7 613.3 223.8 613.8 223.7 614.3 223.4 614.8 222.9 615.3 222.3 615.8 221.5 616.8 219.1 620.8 208.7 622.3 205.4 624.3 201.9 625.3 200.4 625.8 199.9 627.8 198.3 628.8 197.7 629.3 197.6 629.8 197.5 635.3 198.3 638.8 199.4 639.8 199.5 649.3 198.3 650.3 198.3 651.3 198.5 652.8 199.3 656.3 201.8 664.3 209.4 672.3 215.5 681.3 219.9 689.3 222.7 691.4 223.0 693.4 223.0 697.4 222.2 699.9 221.3 701.9 220.1 703.9 218.4 715.9 205.9 720.4 202.4 723.4 200.7 726.4 199.6 727.9 199.3 729.4 199.3 731.4 199.8 734.4 201.1 742.4 206.7 747.4 209.6 749.4 210.4 752.4 210.8 755.4 210.7 760.4 209.5 763.4 208.4 769.9 205.0 774.4 203.4 776.4 203.0 777.9 203.0 779.9 203.4 782.9 204.7 785.4 206.4 799.9 218.3 805.4 221.6 807.9 222.7 809.9 223.2 811.4 223.3 813.4 222.9 816.4 221.7 817.9 220.7 820.4 218.5 823.9 214.6 840.4 191.2 845.0 186.2 847.5 184.0 849.5 182.8 852.0 181.7 854.0 181.3 855.5 181.3 857.0 181.5 859.0 182.4 861.5 183.9 862.5 185.0 863.5 186.4 874.0 205.9 879.5 213.9 883.0 218.0 889.0 223.4 892.0 225.4 897.0 227.5 898.5 227.9 900.0 228.0 918.0 225.9" fill="none" stroke="#800080" stroke-width="3.00" stroke-linejoin="round" stroke-linecap="round"/>
<path d="M538.8 343.8 546.8 342.4 550.8 340.9 552.8 339.9 553.8 339.1 557.8 334.7 558.8 333.2 559.8 331.2 561.3 327.5 561.8 325.2 562.3 321.7 563.3 312.1 565.3 285.5 565.8 280.4 566.3 277.2 566.8 274.8 567.3 273.0 567.8 272.0 569.8 269.2 570.8 267.2 571.8 264.7 572.3 263.2 572.8 261.5 573.3 259.0 575.3 245.5 577.3 229.0 578.8 219.8 579.3 217.4 579.8 215.6 580.8 213.4 581.3 212.5 581.8 211.8 582.3 211.4 582.8 211.2 583.8 211.2 585.3 211.3 585.8 211.3 586.3 211.2 586.8 211.0 587.3 210.6 588.3 209.4 589.3 207.9 589.8 206.9 590.3 205.2 590.8 203.0 592.3 193.9 592.8 190.4 594.8 171.7 596.8 156.5 597.3 153.4 597.8 150.8 598.8 147.3 599.8 144.6 600.3 143.6 600.8 143.0 601.3 142.5 601.8 142.1 602.3 142.0 602.8 142.1 603.3 142.6 603.8 143.7 604.3 145.6 605.3 150.2 607.3 161.6 608.8 167.7 609.8 170.9 610.3 172.1 611.3 173.8 611.8 174.6 612.3 175.1 612.8 175.4 613.3 175.5 613.8 175.4 614.3 175.1 614.8 174.7 615.3 174.1 615.8 173.2 616.3 172.1 621.3 157.7 622.3 155.4 623.8 152.7 624.8 151.3 625.3 150.7 625.8 150.3 628.3 149.0 629.3 148.8 635.3 149.6 638.8 150.4 640.3 150.5 645.8 149.4 649.8 149.2 650.8 149.4 651.8 149.8 655.3 152.0 658.3 154.6 663.8 160.3 671.8 166.2 681.8 171.3 688.8 173.8 690.9 174.2 692.9 174.3 696.9 173.6 699.4 172.7 701.4 171.7 702.9 170.6 715.9 156.9 719.9 153.8 722.9 152.1 726.4 150.8 727.9 150.5 729.4 150.5 731.4 151.0 734.4 152.3 742.4 157.9 747.4 160.8 749.4 161.6 752.4 162.1 755.4 162.0 760.4 160.8 764.4 159.1 773.9 154.5 775.9 153.8 776.9 153.7 777.9 153.7 779.4 154.1 782.9 155.7 785.9 157.9 799.9 170.0 804.4 172.9 807.4 174.3 809.4 174.9 810.9 175.1 812.4 175.0 814.4 174.5 816.4 173.7 817.4 173.0 818.9 171.7 824.4 165.1 840.4 143.5 845.0 138.0 846.5 136.5 847.5 135.8 850.0 134.6 852.5 133.9 854.5 133.7 856.0 133.9 858.0 134.4 860.0 135.4 861.5 136.4 862.0 136.9 863.0 138.4 873.0 158.0 875.0 161.2 879.5 167.2 882.5 170.4 885.0 172.5 890.0 175.8 892.5 177.1 897.5 178.5 899.0 178.8 918.0 176.4" fill="none" stroke="#808000" stroke-width="3.00" stroke-linejoin="round" stroke-linecap="round"/>
<path d="M538.8 305.8 547.3 304.0 552.3 302.1 552.8 301.9 553.8 301.1 555.3 299.3 557.8 295.9 558.3 295.0 558.8 293.8 559.3 292.4 559.8 290.7 560.3 288.6 560.8 285.8 561.3 280.5 562.3 267.6 564.3 248.2 565.8 237.2 566.3 234.1 566.8 231.9 567.3 230.7 567.8 229.8 568.3 229.1 568.8 228.7 569.3 228.7 570.8 228.9 571.3 228.7 571.8 228.3 572.3 227.5 573.3 225.1 573.8 223.7 574.3 221.8 574.8 219.3 576.3 209.8 578.8 189.8 580.3 179.5 580.8 176.8 581.3 174.9 582.3 172.3 583.3 170.1 584.3 168.4 585.3 167.2 588.8 164.5 589.8 163.4 590.8 161.9 592.3 159.1 593.3 156.8 593.8 155.1 594.8 150.5 595.8 144.8 596.3 140.9 597.3 131.3 598.8 120.1 599.3 117.0 599.8 114.5 600.8 111.2 601.3 109.8 601.8 108.7 602.3 107.8 603.3 106.7 603.8 106.3 604.3 106.2 604.8 106.4 605.3 107.0 605.8 108.0 606.8 110.6 607.3 112.3 609.3 122.9 610.8 129.0 611.3 130.8 611.8 132.1 612.8 133.8 613.3 134.6 613.8 135.1 614.3 135.4 614.8 135.5 615.8 135.5 616.8 135.1 617.3 134.8 617.8 134.4 618.8 133.2 619.8 131.6 620.3 130.6 621.3 127.8 622.8 123.0 625.3 116.1 626.3 113.8 627.8 111.4 628.8 110.2 629.3 109.7 629.8 109.4 631.8 108.3 632.8 108.0 633.3 107.9 634.8 108.3 644.8 112.4 649.8 113.2 652.3 114.1 655.8 116.0 674.3 129.6 682.8 134.5 688.8 136.9 691.4 137.5 693.9 137.7 696.4 137.5 697.4 137.2 698.9 136.6 701.4 134.9 702.9 133.6 714.4 120.7 716.9 118.5 720.9 115.9 723.4 114.7 726.9 113.9 728.4 113.7 730.4 113.9 733.9 115.1 736.4 116.4 742.4 120.4 747.9 123.5 749.9 124.2 751.9 124.6 753.4 124.5 756.9 123.7 771.9 117.7 774.9 116.9 776.4 116.7 777.9 116.9 779.9 117.5 783.4 119.3 800.9 132.8 805.4 135.3 808.4 136.4 810.4 136.8 811.9 136.8 814.4 136.3 816.4 135.7 817.4 135.2 818.9 134.1 822.9 130.0 840.9 105.1 845.5 100.2 848.0 98.1 850.5 96.5 853.0 95.4 854.5 95.0 855.5 94.9 857.0 95.2 858.5 95.8 860.5 96.9 861.5 97.7 862.5 98.8 863.5 100.3 873.5 119.3 877.5 125.1 881.5 129.8 884.5 132.6 891.0 137.4 894.0 139.1 899.5 141.3 901.5 141.7 918.0 139.6" fill="none" stroke="#0000ff" stroke-width="3.00" stroke-linejoin="round" stroke-linecap="round"/>
<path d="M538.8 273.8 547.3 271.7 552.3 269.6 552.8 269.4 553.3 269.0 554.3 267.9 556.3 265.0 556.8 264.1 557.3 262.8 558.3 259.4 558.8 257.4 559.3 254.9 560.3 247.9 561.8 235.6 563.3 221.5 564.8 209.8 565.8 203.5 566.3 201.2 567.3 197.6 567.8 196.5 568.3 196.1 569.8 195.8 570.8 195.3 571.8 194.5 572.3 194.0 572.8 193.3 573.3 191.7 573.8 189.4 575.3 180.9 578.8 156.5 579.8 151.0 580.8 147.1 582.3 142.4 584.8 136.3 585.3 135.2 585.8 134.3 586.3 133.7 590.3 130.9 591.3 130.0 591.8 129.1 592.3 127.9 593.3 124.4 593.8 122.4 594.3 120.0 596.8 103.8 598.3 92.9 599.8 83.9 600.3 81.3 600.8 79.1 601.3 77.4 602.3 74.8 602.8 73.8 603.3 73.2 603.8 73.0 604.3 73.3 604.8 73.9 605.3 74.9 606.3 77.6 606.8 79.6 608.3 87.9 609.8 94.4 610.3 96.3 610.8 97.8 611.3 98.8 612.3 100.2 612.8 100.7 613.3 101.1 613.8 101.3 615.3 101.4 616.3 101.2 617.3 100.8 618.3 100.1 619.3 99.0 619.8 98.2 620.3 97.1 622.3 90.6 624.8 83.3 625.8 80.8 627.3 78.3 628.3 76.9 629.3 75.9 629.8 75.6 631.8 74.7 632.8 74.4 633.3 74.4 634.3 74.7 642.8 78.8 645.3 79.6 649.3 79.9 650.8 80.3 655.3 82.7 674.8 96.9 683.3 101.8 688.8 103.9 691.4 104.5 693.9 104.7 696.4 104.5 697.4 104.2 698.9 103.6 701.4 101.9 702.9 100.6 714.4 87.7 716.9 85.5 720.9 83.0 724.4 81.4 727.4 80.6 728.9 80.5 730.4 80.7 733.9 82.1 746.9 90.0 749.4 91.1 751.9 91.7 753.4 91.8 755.9 91.3 762.4 89.0 771.9 85.2 774.9 84.4 776.4 84.2 777.9 84.4 779.9 85.0 783.4 86.8 799.4 98.7 802.9 100.7 807.4 102.4 810.4 103.1 812.9 103.1 816.4 102.4 817.4 102.0 818.9 101.0 822.9 97.0 840.9 71.9 846.0 66.2 848.0 64.3 849.5 63.3 851.5 62.4 853.5 61.9 855.0 61.7 856.5 61.9 858.0 62.4 860.0 63.4 861.5 64.4 862.0 64.9 863.0 66.3 873.5 86.3 877.0 91.4 881.5 96.7 889.5 103.5 893.0 105.8 899.0 108.2 901.0 108.6 915.5 107.3 918.0 106.9" fill="none" stroke="#ff0000" stroke-width="3.00" stroke-linejoin="round" stroke-linecap="round"/>
<g fill="none" stroke="#000" stroke-width="1.12">
<circle cx="535.50" cy="229.20" r="1.95"/><circle cx="536.50" cy="229.03" r="1.95"/><circle cx="537.50" cy="228.78" r="1.95"/><circle cx="538.50" cy="228.49" r="1.95"/><circle cx="539.50" cy="228.17" r="1.95"/><circle cx="540.50" cy="227.82" r="1.95"/><circle cx="541.50" cy="227.37" r="1.95"/><circle cx="542.50" cy="226.82" r="1.95"/><circle cx="543.50" cy="226.22" r="1.95"/><circle cx="544.50" cy="225.57" r="1.95"/><circle cx="545.50" cy="224.89" r="1.95"/><circle cx="546.50" cy="224.03" r="1.95"/><circle cx="547.50" cy="223.03" r="1.95"/><circle cx="548.50" cy="221.89" r="1.95"/><circle cx="549.50" cy="220.25" r="1.95"/><circle cx="550.50" cy="217.44" r="1.95"/><circle cx="551.50" cy="213.56" r="1.95"/><circle cx="552.50" cy="206.84" r="1.95"/><circle cx="553.00" cy="201.15" r="1.95"/><circle cx="553.50" cy="196.59" r="1.95"/><circle cx="554.00" cy="191.23" r="1.95"/><circle cx="554.50" cy="185.00" r="1.95"/><circle cx="555.00" cy="179.74" r="1.95"/><circle cx="555.50" cy="174.49" r="1.95"/><circle cx="556.00" cy="169.02" r="1.95"/><circle cx="556.50" cy="165.87" r="1.95"/><circle cx="557.00" cy="163.11" r="1.95"/><circle cx="557.50" cy="160.40" r="1.95"/><circle cx="558.00" cy="158.00" r="1.95"/><circle cx="558.50" cy="155.93" r="1.95"/><circle cx="559.00" cy="154.01" r="1.95"/><circle cx="559.50" cy="152.21" r="1.95"/><circle cx="560.00" cy="150.50" r="1.95"/><circle cx="560.50" cy="148.83" r="1.95"/><circle cx="561.00" cy="147.17" r="1.95"/><circle cx="561.50" cy="145.55" r="1.95"/><circle cx="562.00" cy="144.01" r="1.95"/><circle cx="562.50" cy="142.56" r="1.95"/><circle cx="563.00" cy="141.25" r="1.95"/><circle cx="563.50" cy="140.21" r="1.95"/><circle cx="564.00" cy="139.39" r="1.95"/><circle cx="564.50" cy="138.57" r="1.95"/><circle cx="565.00" cy="137.50" r="1.95"/><circle cx="565.50" cy="136.15" r="1.95"/><circle cx="566.00" cy="134.65" r="1.95"/><circle cx="566.50" cy="133.04" r="1.95"/><circle cx="567.00" cy="131.34" r="1.95"/><circle cx="567.50" cy="129.56" r="1.95"/><circle cx="568.00" cy="127.75" r="1.95"/><circle cx="568.50" cy="125.92" r="1.95"/><circle cx="569.00" cy="124.07" r="1.95"/><circle cx="569.50" cy="122.12" r="1.95"/><circle cx="570.00" cy="120.09" r="1.95"/><circle cx="570.50" cy="118.01" r="1.95"/><circle cx="571.00" cy="115.93" r="1.95"/><circle cx="571.50" cy="113.87" r="1.95"/><circle cx="572.00" cy="111.88" r="1.95"/><circle cx="572.50" cy="110.00" r="1.95"/><circle cx="573.00" cy="108.20" r="1.95"/><circle cx="573.50" cy="106.43" r="1.95"/><circle cx="574.00" cy="104.70" r="1.95"/><circle cx="574.50" cy="103.01" r="1.95"/><circle cx="575.00" cy="101.37" r="1.95"/><circle cx="575.50" cy="99.78" r="1.95"/><circle cx="576.00" cy="98.25" r="1.95"/><circle cx="576.50" cy="96.76" r="1.95"/><circle cx="577.00" cy="95.26" r="1.95"/><circle cx="577.50" cy="93.78" r="1.95"/><circle cx="578.00" cy="92.33" r="1.95"/><circle cx="578.65" cy="90.55" r="1.95"/><circle cx="579.30" cy="88.95" r="1.95"/><circle cx="579.95" cy="87.59" r="1.95"/><circle cx="580.60" cy="86.44" r="1.95"/><circle cx="581.25" cy="85.39" r="1.95"/><circle cx="581.90" cy="84.40" r="1.95"/><circle cx="582.55" cy="83.47" r="1.95"/><circle cx="583.20" cy="82.56" r="1.95"/><circle cx="583.85" cy="81.66" r="1.95"/><circle cx="584.50" cy="80.73" r="1.95"/><circle cx="585.15" cy="79.78" r="1.95"/><circle cx="585.80" cy="78.82" r="1.95"/><circle cx="586.45" cy="77.89" r="1.95"/><circle cx="587.10" cy="76.95" r="1.95"/><circle cx="587.75" cy="76.01" r="1.95"/><circle cx="588.40" cy="75.05" r="1.95"/><circle cx="589.05" cy="74.05" r="1.95"/><circle cx="589.70" cy="73.00" r="1.95"/><circle cx="590.35" cy="71.89" r="1.95"/><circle cx="591.00" cy="70.66" r="1.95"/><circle cx="591.65" cy="69.36" r="1.95"/><circle cx="592.30" cy="68.00" r="1.95"/><circle cx="592.95" cy="66.62" r="1.95"/><circle cx="593.60" cy="65.26" r="1.95"/><circle cx="594.25" cy="63.93" r="1.95"/><circle cx="594.90" cy="62.68" r="1.95"/><circle cx="595.55" cy="61.48" r="1.95"/><circle cx="596.20" cy="60.28" r="1.95"/><circle cx="596.85" cy="59.11" r="1.95"/><circle cx="597.50" cy="58.01" r="1.95"/><circle cx="598.15" cy="57.02" r="1.95"/><circle cx="598.80" cy="56.19" r="1.95"/><circle cx="599.45" cy="55.45" r="1.95"/><circle cx="600.10" cy="54.74" r="1.95"/><circle cx="600.75" cy="54.10" r="1.95"/><circle cx="601.40" cy="53.57" r="1.95"/><circle cx="602.05" cy="53.18" r="1.95"/><circle cx="602.70" cy="52.94" r="1.95"/><circle cx="603.35" cy="52.75" r="1.95"/><circle cx="604.00" cy="52.59" r="1.95"/><circle cx="604.65" cy="52.47" r="1.95"/><circle cx="605.30" cy="52.42" r="1.95"/><circle cx="605.95" cy="52.45" r="1.95"/><circle cx="606.60" cy="52.58" r="1.95"/><circle cx="607.25" cy="52.79" r="1.95"/><circle cx="607.90" cy="53.03" r="1.95"/><circle cx="608.55" cy="53.28" r="1.95"/><circle cx="609.20" cy="53.52" r="1.95"/><circle cx="609.85" cy="53.71" r="1.95"/><circle cx="610.50" cy="53.86" r="1.95"/><circle cx="611.15" cy="54.00" r="1.95"/><circle cx="611.80" cy="54.12" r="1.95"/><circle cx="612.45" cy="54.20" r="1.95"/><circle cx="613.10" cy="54.25" r="1.95"/><circle cx="613.75" cy="54.25" r="1.95"/><circle cx="614.40" cy="54.17" r="1.95"/><circle cx="615.05" cy="54.01" r="1.95"/><circle cx="615.70" cy="53.78" r="1.95"/><circle cx="616.35" cy="53.52" r="1.95"/><circle cx="617.00" cy="53.22" r="1.95"/><circle cx="617.65" cy="52.93" r="1.95"/><circle cx="618.30" cy="52.62" r="1.95"/><circle cx="618.95" cy="52.27" r="1.95"/><circle cx="619.60" cy="51.89" r="1.95"/><circle cx="620.25" cy="51.48" r="1.95"/><circle cx="620.90" cy="51.06" r="1.95"/><circle cx="621.55" cy="50.63" r="1.95"/><circle cx="622.20" cy="50.20" r="1.95"/><circle cx="622.85" cy="49.76" r="1.95"/><circle cx="623.50" cy="49.27" r="1.95"/><circle cx="624.15" cy="48.74" r="1.95"/><circle cx="624.80" cy="48.20" r="1.95"/><circle cx="625.45" cy="47.67" r="1.95"/><circle cx="626.10" cy="47.16" r="1.95"/><circle cx="626.75" cy="46.70" r="1.95"/><circle cx="627.40" cy="46.30" r="1.95"/><circle cx="628.05" cy="45.96" r="1.95"/><circle cx="628.70" cy="45.62" r="1.95"/><circle cx="629.35" cy="45.30" r="1.95"/><circle cx="630.00" cy="45.02" r="1.95"/><circle cx="630.65" cy="44.78" r="1.95"/><circle cx="631.30" cy="44.60" r="1.95"/><circle cx="631.95" cy="44.51" r="1.95"/><circle cx="632.60" cy="44.51" r="1.95"/><circle cx="633.25" cy="44.56" r="1.95"/><circle cx="633.90" cy="44.66" r="1.95"/><circle cx="634.55" cy="44.78" r="1.95"/><circle cx="635.20" cy="44.92" r="1.95"/><circle cx="635.85" cy="45.07" r="1.95"/><circle cx="636.50" cy="45.24" r="1.95"/><circle cx="637.15" cy="45.41" r="1.95"/><circle cx="637.80" cy="45.58" r="1.95"/><circle cx="638.45" cy="45.80" r="1.95"/><circle cx="639.10" cy="46.04" r="1.95"/><circle cx="639.75" cy="46.29" r="1.95"/><circle cx="640.40" cy="46.53" r="1.95"/><circle cx="641.05" cy="46.74" r="1.95"/><circle cx="641.70" cy="46.90" r="1.95"/><circle cx="642.35" cy="46.99" r="1.95"/><circle cx="644.15" cy="47.04" r="1.95"/><circle cx="645.95" cy="47.05" r="1.95"/><circle cx="647.75" cy="47.03" r="1.95"/><circle cx="649.55" cy="47.01" r="1.95"/><circle cx="651.35" cy="46.96" r="1.95"/><circle cx="653.15" cy="46.88" r="1.95"/><circle cx="654.95" cy="46.79" r="1.95"/><circle cx="656.75" cy="46.75" r="1.95"/><circle cx="658.55" cy="46.86" r="1.95"/><circle cx="660.35" cy="47.42" r="1.95"/><circle cx="663.17" cy="48.73" r="1.95"/><circle cx="666.02" cy="49.86" r="1.95"/><circle cx="668.91" cy="50.87" r="1.95"/><circle cx="671.84" cy="51.81" r="1.95"/><circle cx="674.81" cy="52.60" r="1.95"/><circle cx="677.82" cy="53.30" r="1.95"/><circle cx="680.86" cy="53.92" r="1.95"/><circle cx="683.95" cy="54.49" r="1.95"/><circle cx="687.07" cy="54.95" r="1.95"/><circle cx="690.23" cy="55.18" r="1.95"/><circle cx="693.43" cy="55.13" r="1.95"/><circle cx="696.67" cy="54.70" r="1.95"/><circle cx="699.95" cy="53.57" r="1.95"/><circle cx="703.27" cy="52.16" r="1.95"/><circle cx="706.62" cy="50.37" r="1.95"/><circle cx="710.01" cy="48.75" r="1.95"/><circle cx="713.44" cy="47.66" r="1.95"/><circle cx="716.91" cy="46.85" r="1.95"/><circle cx="720.42" cy="46.25" r="1.95"/><circle cx="723.97" cy="45.80" r="1.95"/><circle cx="727.55" cy="45.73" r="1.95"/><circle cx="731.18" cy="45.77" r="1.95"/><circle cx="734.84" cy="45.79" r="1.95"/><circle cx="738.54" cy="45.71" r="1.95"/><circle cx="742.28" cy="45.57" r="1.95"/><circle cx="746.05" cy="45.40" r="1.95"/><circle cx="749.87" cy="45.25" r="1.95"/><circle cx="753.73" cy="45.14" r="1.95"/><circle cx="757.62" cy="45.06" r="1.95"/><circle cx="761.55" cy="45.01" r="1.95"/><circle cx="765.52" cy="45.05" r="1.95"/><circle cx="769.53" cy="45.29" r="1.95"/><circle cx="773.58" cy="45.63" r="1.95"/><circle cx="777.66" cy="46.05" r="1.95"/><circle cx="781.79" cy="46.79" r="1.95"/><circle cx="785.95" cy="47.74" r="1.95"/><circle cx="790.15" cy="49.13" r="1.95"/><circle cx="794.39" cy="50.58" r="1.95"/><circle cx="798.67" cy="51.70" r="1.95"/><circle cx="802.99" cy="52.58" r="1.95"/><circle cx="807.34" cy="53.10" r="1.95"/><circle cx="811.74" cy="52.59" r="1.95"/><circle cx="816.17" cy="50.60" r="1.95"/><circle cx="820.64" cy="48.64" r="1.95"/><circle cx="825.15" cy="46.69" r="1.95"/><circle cx="829.70" cy="44.75" r="1.95"/><circle cx="834.29" cy="43.22" r="1.95"/><circle cx="838.91" cy="42.15" r="1.95"/><circle cx="843.58" cy="41.72" r="1.95"/><circle cx="848.28" cy="41.81" r="1.95"/><circle cx="853.02" cy="42.71" r="1.95"/><circle cx="857.80" cy="44.29" r="1.95"/><circle cx="862.62" cy="46.29" r="1.95"/><circle cx="867.47" cy="47.68" r="1.95"/><circle cx="872.37" cy="48.75" r="1.95"/><circle cx="877.30" cy="49.49" r="1.95"/><circle cx="882.28" cy="49.60" r="1.95"/><circle cx="887.29" cy="49.51" r="1.95"/><circle cx="892.34" cy="49.22" r="1.95"/><circle cx="897.43" cy="48.89" r="1.95"/><circle cx="902.55" cy="48.63" r="1.95"/><circle cx="907.72" cy="48.39" r="1.95"/><circle cx="912.92" cy="48.24" r="1.95"/><circle cx="918.17" cy="48.21" r="1.95"/>
</g>
<line x1="615.50" y1="1.50" x2="615.50" y2="557.30" stroke="#000" stroke-width="3.05" stroke-dasharray="11.55 13.05"/>
<line x1="688.50" y1="2.10" x2="688.50" y2="557.30" stroke="#000" stroke-width="3.05" stroke-dasharray="11.55 13.05"/>
<line x1="809.60" y1="3.00" x2="809.60" y2="557.30" stroke="#000" stroke-width="3.05" stroke-dasharray="11.55 13.05"/>
<rect x="533.80" y="1.75" width="389.15" height="564.05" fill="none" stroke="#000" stroke-width="4.0"/>
<line x1="586.30" y1="565.80" x2="586.30" y2="558.90" stroke="#000" stroke-width="3.7"/>
<line x1="691.70" y1="565.80" x2="691.70" y2="558.90" stroke="#000" stroke-width="3.7"/>
<line x1="797.00" y1="565.80" x2="797.00" y2="558.90" stroke="#000" stroke-width="3.7"/>
<line x1="902.40" y1="565.80" x2="902.40" y2="558.90" stroke="#000" stroke-width="3.7"/>
<line x1="639.00" y1="565.80" x2="639.00" y2="562.10" stroke="#000" stroke-width="3.7"/>
<line x1="744.35" y1="565.80" x2="744.35" y2="562.10" stroke="#000" stroke-width="3.7"/>
<line x1="849.70" y1="565.80" x2="849.70" y2="562.10" stroke="#000" stroke-width="3.7"/>
<text x="586.10" y="592.10" font-size="23.30" font-weight="normal" fill="#000" text-anchor="middle" stroke="#000" stroke-width="0.3" stroke-linejoin="round">7720</text>
<text x="691.50" y="592.10" font-size="23.30" font-weight="normal" fill="#000" text-anchor="middle" stroke="#000" stroke-width="0.3" stroke-linejoin="round">7760</text>
<text x="796.80" y="592.10" font-size="23.30" font-weight="normal" fill="#000" text-anchor="middle" stroke="#000" stroke-width="0.3" stroke-linejoin="round">7800</text>
<text x="902.20" y="592.10" font-size="23.30" font-weight="normal" fill="#000" text-anchor="middle" stroke="#000" stroke-width="0.3" stroke-linejoin="round">7840</text>
<text x="715.90" y="623.20" font-size="22.90" font-weight="normal" fill="#000" text-anchor="middle" stroke="#000" stroke-width="0.3" stroke-linejoin="round">Energy (eV)</text>
<text transform="translate(591.20 511.40) rotate(-90)" font-size="19.60" text-anchor="middle" fill="#000" stroke="#000" stroke-width="0.3">Region-I</text>
<text transform="translate(660.10 502.30) rotate(-90)" font-size="19.60" text-anchor="middle" fill="#000" stroke="#000" stroke-width="0.3">Region-II</text>
<text transform="translate(754.90 500.90) rotate(-90)" font-size="19.60" text-anchor="middle" fill="#000" stroke="#000" stroke-width="0.3">Region-III</text>
<text transform="translate(869.60 503.60) rotate(-90)" font-size="19.60" text-anchor="middle" fill="#000" stroke="#000" stroke-width="0.3">Region-IV</text>
<text x="894.30" y="535.30" font-size="19.50" font-weight="normal" fill="#000" text-anchor="start" stroke="#000" stroke-width="0.3" stroke-linejoin="round">(b)</text>
<text x="824.00" y="434.40" font-size="19.30" font-weight="normal" fill="#000" text-anchor="start" text-decoration="underline" stroke="#000" stroke-width="0.3" stroke-linejoin="round">Co K-edge</text>
<text x="604.40" y="40.50" font-size="16.00" font-weight="bold" fill="#000" text-anchor="middle" stroke="#000" stroke-width="0.45" stroke-linejoin="round">3</text>
<text x="631.60" y="36.80" font-size="16.00" font-weight="bold" fill="#000" text-anchor="middle" stroke="#000" stroke-width="0.45" stroke-linejoin="round">4</text>
<text x="667.00" y="40.80" font-size="16.00" font-weight="bold" fill="#000" text-anchor="middle" stroke="#000" stroke-width="0.45" stroke-linejoin="round">5</text>
<text x="724.60" y="36.00" font-size="16.00" font-weight="bold" fill="#000" text-anchor="middle" stroke="#000" stroke-width="0.45" stroke-linejoin="round">6</text>
<text x="774.00" y="35.50" font-size="16.00" font-weight="bold" fill="#000" text-anchor="middle" stroke="#000" stroke-width="0.45" stroke-linejoin="round">7</text>
<text x="847.80" y="31.80" font-size="16.00" font-weight="bold" fill="#000" text-anchor="middle" stroke="#000" stroke-width="0.45" stroke-linejoin="round">8</text>
<text x="570.40" y="69.00" font-size="16.00" font-weight="bold" fill="#000" text-anchor="middle" stroke="#000" stroke-width="0.45" stroke-linejoin="round">2</text>
<text x="551.30" y="131.00" font-size="16.00" font-weight="bold" fill="#000" text-anchor="middle" stroke="#000" stroke-width="0.45" stroke-linejoin="round">1</text>
<text x="929.50" y="58.80" font-size="19.50" font-weight="bold" fill="#000" text-anchor="start" stroke="#000" stroke-width="0.45" stroke-linejoin="round">Exp.</text>
<text x="929.50" y="113.90" font-size="19.50" font-weight="bold" fill="#ff0000" text-anchor="start" stroke="#ff0000" stroke-width="0.45" stroke-linejoin="round">Full</text>
<text x="929.80" y="144.80" font-size="19.50" font-weight="bold" fill="#0000ff" text-anchor="start" stroke="#0000ff" stroke-width="0.45" stroke-linejoin="round">Mn/Al(6.3)</text>
<text x="930.00" y="187.20" font-size="19.50" font-weight="bold" fill="#008000" text-anchor="start" stroke="#008000" stroke-width="0.45" stroke-linejoin="round">Co(5.76)</text>
<text x="929.50" y="224.50" font-size="19.50" font-weight="bold" fill="#800080" text-anchor="start" stroke="#800080" stroke-width="0.45" stroke-linejoin="round">Co(5)</text>
<text x="929.30" y="272.30" font-size="19.50" font-weight="bold" fill="#ff8000" text-anchor="start" stroke="#ff8000" stroke-width="0.45" stroke-linejoin="round">Mn/Al(4.8)</text>
<text x="929.50" y="324.20" font-size="19.50" font-weight="bold" fill="#ff00ff" text-anchor="start" stroke="#ff00ff" stroke-width="0.45" stroke-linejoin="round">Co(4.1)</text>
<text x="931.70" y="361.40" font-size="19.50" font-weight="bold" fill="#00ff00" text-anchor="start" stroke="#00ff00" stroke-width="0.45" stroke-linejoin="round">Co(2.9)</text>
<text x="929.30" y="393.90" font-size="19.50" font-weight="bold" fill="#ff0080" text-anchor="start" stroke="#ff0080" stroke-width="0.45" stroke-linejoin="round">Mn/Al(2.5)</text>
</g>
<g id="panel-c">
<rect x="1063.70" y="1.75" width="389.20" height="564.05" fill="none" stroke="#000" stroke-width="4.0"/>
<line x1="1128.40" y1="565.80" x2="1128.40" y2="558.90" stroke="#000" stroke-width="3.7"/>
<line x1="1232.30" y1="565.80" x2="1232.30" y2="558.90" stroke="#000" stroke-width="3.7"/>
<line x1="1336.10" y1="565.80" x2="1336.10" y2="558.90" stroke="#000" stroke-width="3.7"/>
<line x1="1440.00" y1="565.80" x2="1440.00" y2="558.90" stroke="#000" stroke-width="3.7"/>
<line x1="1076.50" y1="565.80" x2="1076.50" y2="562.10" stroke="#000" stroke-width="3.7"/>
<line x1="1180.30" y1="565.80" x2="1180.30" y2="562.10" stroke="#000" stroke-width="3.7"/>
<line x1="1284.20" y1="565.80" x2="1284.20" y2="562.10" stroke="#000" stroke-width="3.7"/>
<line x1="1388.00" y1="565.80" x2="1388.00" y2="562.10" stroke="#000" stroke-width="3.7"/>
<path d="M1080.0 551.2 1087.0 549.8 1092.5 547.5 1093.0 547.2 1094.0 546.3 1097.0 542.5 1097.5 541.7 1098.5 539.4 1100.0 535.0 1100.5 533.0 1101.0 530.2 1102.0 522.5 1102.5 516.6 1104.5 485.0 1105.5 472.6 1106.5 462.7 1108.0 450.4 1110.0 436.3 1110.5 433.3 1111.0 430.9 1111.5 429.3 1112.0 428.3 1113.5 425.8 1115.5 420.7 1117.0 416.2 1118.0 412.7 1119.0 408.2 1120.0 403.0 1121.0 396.5 1126.5 353.6 1127.5 347.5 1128.5 343.0 1130.0 337.5 1131.5 333.1 1132.5 330.8 1134.0 327.8 1134.5 326.5 1135.0 325.0 1136.0 321.1 1139.5 303.5 1141.5 292.5 1143.5 282.7 1144.0 280.7 1144.5 279.1 1145.0 278.2 1145.5 278.0 1146.0 278.3 1146.5 279.0 1147.0 280.0 1151.0 291.7 1151.5 293.4 1153.0 299.6 1153.5 301.4 1154.0 302.5 1154.5 303.3 1155.0 303.7 1155.5 303.7 1156.0 303.5 1156.5 302.9 1157.0 302.0 1157.5 300.6 1158.5 296.9 1160.0 290.2 1163.0 274.7 1163.5 272.5 1164.5 269.1 1165.0 267.6 1165.5 266.5 1166.0 265.7 1166.5 265.4 1167.0 265.1 1167.5 265.0 1168.0 265.0 1168.5 265.1 1169.0 265.3 1169.5 265.8 1170.5 267.0 1176.5 276.3 1177.5 277.5 1179.5 279.2 1181.0 280.2 1182.0 280.6 1189.5 281.6 1192.5 282.6 1195.5 284.0 1198.0 285.8 1203.0 290.5 1208.0 296.3 1213.5 301.2 1216.5 303.2 1222.0 305.7 1225.0 306.6 1227.0 306.8 1229.0 306.6 1232.5 305.5 1234.5 304.6 1236.5 303.2 1243.0 297.0 1249.0 289.7 1252.0 285.1 1254.5 282.4 1256.5 280.6 1260.5 278.5 1262.5 277.8 1264.0 277.5 1265.5 277.4 1267.0 277.7 1268.5 278.1 1269.5 278.6 1271.0 279.8 1281.0 290.1 1282.0 290.9 1285.0 292.6 1287.0 293.4 1288.5 293.7 1290.0 293.8 1292.0 293.5 1295.0 292.4 1298.5 290.7 1312.5 280.4 1316.5 278.1 1319.0 277.2 1321.0 276.8 1322.0 276.8 1322.5 276.8 1323.5 277.1 1324.5 277.7 1326.0 279.0 1327.5 280.5 1328.5 281.8 1336.0 294.5 1342.0 307.8 1346.0 315.2 1347.5 317.4 1348.5 318.5 1349.5 319.3 1350.5 319.9 1351.5 320.2 1352.5 320.3 1353.5 320.2 1354.5 319.8 1355.5 319.1 1356.5 318.1 1358.0 315.9 1362.5 307.6 1365.0 301.9 1367.5 295.0 1369.0 289.7 1375.5 264.1 1377.0 259.0 1380.0 250.7 1381.5 247.2 1382.5 245.4 1383.5 244.0 1385.5 242.2 1387.0 241.2 1388.0 240.8 1389.0 240.5 1390.0 240.5 1391.0 240.7 1392.0 241.1 1393.0 241.8 1394.0 242.8 1395.5 244.6 1397.5 247.7 1399.0 250.5 1400.0 252.8 1415.0 294.1 1417.0 298.5 1420.0 303.9 1422.0 306.9 1426.5 312.0 1429.0 314.3 1434.0 317.5 1436.0 318.4 1437.5 318.8 1442.0 319.0 1445.5 318.7 1450.0 317.3 1452.5 316.2 1453.0 316.2" fill="none" stroke="#0000ff" stroke-width="3.00" stroke-linejoin="round" stroke-linecap="round"/>
<path d="M1080.0 378.8 1088.0 377.4 1094.0 374.9 1095.0 374.2 1097.0 372.1 1099.0 369.7 1099.5 368.8 1100.5 366.6 1101.5 363.6 1102.5 360.0 1103.0 357.6 1104.0 350.5 1105.5 338.1 1106.5 329.1 1107.0 326.2 1107.5 324.0 1108.0 322.1 1108.5 320.6 1115.5 306.1 1117.5 301.2 1118.5 298.1 1120.5 290.9 1121.5 288.1 1123.0 284.7 1123.5 283.7 1124.0 283.0 1124.5 282.5 1126.0 281.6 1127.0 281.2 1129.5 280.7 1130.0 280.5 1130.5 280.1 1131.0 279.6 1132.0 278.1 1134.5 273.6 1137.5 267.1 1138.5 265.4 1140.0 263.4 1141.5 261.9 1142.5 261.2 1149.5 257.8 1150.5 257.1 1151.5 256.1 1153.0 253.8 1154.0 252.0 1154.5 250.8 1155.5 247.7 1158.0 237.9 1160.5 225.5 1161.5 221.6 1162.5 218.3 1163.0 216.9 1163.5 215.7 1164.0 214.8 1165.0 213.8 1165.5 213.5 1166.0 213.2 1166.5 213.0 1167.0 213.1 1167.5 213.2 1168.5 214.0 1170.0 215.8 1172.0 218.7 1176.0 225.9 1181.5 233.7 1204.5 259.7 1209.0 263.8 1214.0 267.1 1216.5 268.4 1222.0 270.1 1224.5 270.5 1226.5 270.4 1233.0 268.6 1235.0 267.6 1238.5 265.0 1240.5 263.3 1242.5 261.0 1248.5 252.2 1254.5 242.0 1259.5 234.6 1261.5 232.2 1264.5 229.7 1266.5 228.4 1268.0 227.7 1270.5 227.2 1272.0 227.2 1273.5 227.4 1275.0 228.0 1281.5 232.3 1287.5 237.0 1293.5 240.6 1301.5 243.7 1304.5 244.4 1311.0 245.0 1324.0 244.1 1327.5 244.2 1328.0 244.3 1329.0 244.7 1330.5 245.7 1333.5 248.5 1346.5 264.1 1348.5 266.0 1351.5 268.3 1353.5 269.5 1355.0 270.0 1357.5 270.4 1360.5 270.3 1363.0 269.9 1364.5 269.2 1367.0 267.6 1370.5 264.5 1372.5 262.2 1379.0 252.6 1390.0 234.4 1391.5 232.4 1394.5 229.3 1396.5 227.8 1398.0 227.0 1401.0 226.4 1403.5 226.3 1405.5 226.6 1407.0 227.0 1409.0 228.0 1413.0 230.9 1422.5 240.0 1431.5 246.9 1439.5 251.7 1448.0 254.8 1452.0 255.7 1453.0 255.8" fill="none" stroke="#008000" stroke-width="3.00" stroke-linejoin="round" stroke-linecap="round"/>
<path d="M1080.0 319.5 1089.0 318.8 1095.0 317.5 1096.0 317.1 1097.0 316.5 1100.0 313.8 1100.5 313.0 1101.0 312.0 1101.5 310.6 1102.5 307.0 1103.0 305.0 1103.5 302.4 1105.0 292.5 1106.5 285.0 1108.0 274.2 1108.5 271.1 1109.5 267.4 1110.5 264.4 1111.0 263.4 1111.5 262.7 1112.0 262.5 1118.5 262.5 1119.0 262.4 1119.5 261.6 1120.0 260.1 1121.5 253.9 1122.5 248.5 1127.5 216.1 1128.0 213.3 1128.5 210.9 1129.5 207.7 1130.5 205.2 1133.0 200.4 1135.5 196.5 1136.5 194.4 1137.5 191.6 1140.0 182.5 1142.5 170.5 1143.0 168.8 1143.5 167.5 1144.0 166.4 1144.5 165.6 1145.0 165.1 1145.5 165.0 1146.0 165.3 1146.5 166.0 1147.0 167.1 1148.0 170.0 1148.5 172.0 1151.0 186.4 1153.0 194.7 1154.0 198.0 1154.5 199.2 1155.0 200.0 1157.0 202.2 1158.0 203.0 1158.5 203.2 1159.0 203.3 1159.5 203.2 1169.5 198.9 1171.0 198.5 1174.5 198.1 1176.0 197.6 1178.0 196.5 1181.0 194.2 1192.5 182.6 1194.0 181.4 1198.0 179.3 1200.0 178.6 1201.5 178.3 1207.5 178.8 1229.0 184.1 1243.5 184.8 1248.0 185.6 1250.0 186.4 1258.0 191.2 1272.0 201.0 1276.0 202.9 1279.5 204.1 1282.0 204.5 1284.0 204.4 1286.5 203.9 1290.5 202.3 1292.5 201.0 1310.0 185.0 1315.0 181.3 1317.0 180.2 1319.0 179.5 1320.5 179.2 1322.0 179.2 1323.0 179.4 1324.0 179.8 1325.5 180.8 1328.0 183.0 1334.5 190.7 1339.5 195.8 1341.5 197.4 1343.5 198.5 1345.5 199.1 1347.5 199.5 1349.0 199.5 1350.0 199.3 1351.5 198.7 1355.0 196.2 1356.0 195.3 1357.0 194.0 1359.0 190.7 1363.0 182.7 1369.5 166.1 1374.5 155.1 1376.5 151.5 1379.0 148.0 1380.5 146.3 1381.5 145.4 1382.5 144.8 1383.0 144.6 1383.5 144.5 1384.0 144.5 1384.5 144.6 1385.0 144.9 1386.0 145.6 1387.0 146.7 1389.0 149.6 1390.5 152.1 1392.0 155.3 1404.5 188.8 1409.5 200.3 1411.5 204.0 1415.5 209.4 1418.0 212.2 1419.5 213.5 1421.0 214.4 1426.0 216.5 1428.0 217.0 1429.5 217.0 1433.0 216.4 1443.0 212.4 1452.5 207.0 1453.0 207.0" fill="none" stroke="#ff00ff" stroke-width="3.00" stroke-linejoin="round" stroke-linecap="round"/>
<path d="M1080.0 381.8 1088.5 379.7 1093.5 377.6 1094.0 377.4 1094.5 377.0 1095.5 376.0 1098.0 372.5 1098.5 371.6 1099.0 370.4 1100.0 367.3 1101.0 363.5 1101.5 361.3 1102.0 358.2 1104.0 340.0 1105.0 328.1 1106.0 313.4 1107.5 286.1 1108.0 278.5 1108.5 274.9 1109.0 272.7 1109.5 271.2 1110.0 270.5 1110.5 270.5 1111.0 270.7 1112.0 271.3 1112.5 271.5 1113.0 271.2 1113.5 270.4 1114.0 269.0 1115.0 265.0 1115.5 262.3 1116.0 258.7 1117.5 245.0 1119.5 220.5 1121.0 205.4 1121.5 201.1 1122.0 197.6 1122.5 195.0 1123.5 191.3 1124.5 188.2 1125.0 187.1 1125.5 186.2 1129.0 182.2 1132.0 179.4 1132.5 178.8 1133.0 177.8 1133.5 176.4 1134.5 172.4 1135.0 170.0 1135.5 167.0 1138.5 142.3 1141.0 117.3 1142.5 104.4 1143.0 101.2 1143.5 99.0 1144.0 97.3 1144.5 96.2 1145.0 95.8 1145.5 96.1 1146.0 96.9 1146.5 98.3 1147.0 100.0 1147.5 102.3 1151.0 124.8 1151.5 127.7 1152.0 130.0 1153.0 133.3 1153.5 134.6 1154.0 135.6 1154.5 136.2 1155.5 137.1 1156.0 137.4 1156.5 137.6 1157.0 137.5 1157.5 137.2 1158.0 136.6 1158.5 135.8 1159.5 133.7 1160.0 132.5 1160.5 131.0 1161.5 127.2 1166.0 108.3 1167.0 104.9 1167.5 103.8 1168.5 102.0 1169.5 100.8 1170.0 100.3 1172.5 99.0 1173.0 98.8 1173.5 98.7 1175.0 99.0 1177.5 100.0 1182.0 103.0 1192.0 106.5 1193.0 107.0 1194.5 108.1 1214.5 129.8 1222.0 136.1 1225.0 138.1 1228.5 139.7 1231.0 140.4 1232.5 140.5 1233.5 140.4 1235.0 139.9 1237.0 138.8 1239.0 137.3 1240.5 135.8 1247.5 125.6 1253.0 116.4 1254.5 114.3 1258.0 110.6 1260.5 108.6 1262.0 107.7 1265.5 106.3 1267.0 106.0 1268.5 106.1 1270.0 106.4 1272.5 107.5 1274.0 108.5 1284.5 118.7 1286.5 120.2 1289.0 121.4 1291.0 121.9 1292.5 122.0 1294.5 121.6 1297.5 120.5 1309.5 112.6 1311.5 111.6 1313.5 111.0 1315.5 110.8 1317.0 110.8 1318.5 111.3 1320.5 112.3 1323.0 114.1 1325.0 116.2 1338.0 132.9 1340.0 135.0 1343.0 137.4 1345.0 138.7 1346.5 139.3 1347.5 139.5 1348.5 139.5 1349.5 139.4 1351.0 138.7 1354.0 136.8 1355.0 135.9 1356.5 134.0 1361.5 125.8 1371.0 105.5 1377.0 94.4 1379.5 90.6 1383.5 86.1 1389.0 81.3 1390.5 80.3 1391.5 79.9 1392.5 79.7 1393.5 79.8 1394.5 80.2 1395.5 80.7 1397.0 81.9 1398.5 83.5 1399.0 84.1 1399.5 84.9 1400.5 87.0 1405.0 100.0 1411.5 117.4 1413.5 122.0 1417.0 128.4 1420.5 133.7 1426.5 140.9 1428.5 142.8 1429.5 143.5 1434.0 145.5 1436.0 146.1 1443.0 146.0 1452.5 144.2 1453.0 144.2" fill="none" stroke="#ff0000" stroke-width="3.00" stroke-linejoin="round" stroke-linecap="round"/>
<g fill="none" stroke="#000" stroke-width="1.12">
<circle cx="1065.50" cy="321.21" r="1.95"/><circle cx="1066.50" cy="321.11" r="1.95"/><circle cx="1067.50" cy="320.97" r="1.95"/><circle cx="1068.50" cy="320.80" r="1.95"/><circle cx="1069.50" cy="320.62" r="1.95"/><circle cx="1070.50" cy="320.42" r="1.95"/><circle cx="1071.50" cy="320.21" r="1.95"/><circle cx="1072.50" cy="320.00" r="1.95"/><circle cx="1073.50" cy="319.77" r="1.95"/><circle cx="1074.50" cy="319.50" r="1.95"/><circle cx="1075.50" cy="319.19" r="1.95"/><circle cx="1076.50" cy="318.84" r="1.95"/><circle cx="1077.50" cy="318.48" r="1.95"/><circle cx="1078.50" cy="318.09" r="1.95"/><circle cx="1079.50" cy="317.70" r="1.95"/><circle cx="1080.50" cy="317.28" r="1.95"/><circle cx="1081.50" cy="316.76" r="1.95"/><circle cx="1082.50" cy="316.13" r="1.95"/><circle cx="1083.50" cy="315.42" r="1.95"/><circle cx="1084.50" cy="314.65" r="1.95"/><circle cx="1085.50" cy="313.80" r="1.95"/><circle cx="1086.50" cy="312.66" r="1.95"/><circle cx="1087.50" cy="311.31" r="1.95"/><circle cx="1088.50" cy="309.86" r="1.95"/><circle cx="1089.50" cy="308.26" r="1.95"/><circle cx="1090.50" cy="306.00" r="1.95"/><circle cx="1091.50" cy="302.00" r="1.95"/><circle cx="1092.50" cy="299.48" r="1.95"/><circle cx="1093.50" cy="296.82" r="1.95"/><circle cx="1094.50" cy="293.04" r="1.95"/><circle cx="1095.00" cy="286.75" r="1.95"/><circle cx="1095.50" cy="280.19" r="1.95"/><circle cx="1096.00" cy="273.75" r="1.95"/><circle cx="1096.50" cy="265.76" r="1.95"/><circle cx="1097.00" cy="257.75" r="1.95"/><circle cx="1097.50" cy="250.79" r="1.95"/><circle cx="1098.00" cy="244.16" r="1.95"/><circle cx="1098.50" cy="237.05" r="1.95"/><circle cx="1099.00" cy="229.53" r="1.95"/><circle cx="1099.50" cy="224.06" r="1.95"/><circle cx="1100.00" cy="219.96" r="1.95"/><circle cx="1100.50" cy="216.50" r="1.95"/><circle cx="1101.00" cy="213.25" r="1.95"/><circle cx="1101.50" cy="210.18" r="1.95"/><circle cx="1102.00" cy="207.50" r="1.95"/><circle cx="1102.50" cy="205.20" r="1.95"/><circle cx="1103.00" cy="203.07" r="1.95"/><circle cx="1103.50" cy="201.03" r="1.95"/><circle cx="1104.00" cy="198.98" r="1.95"/><circle cx="1104.50" cy="197.03" r="1.95"/><circle cx="1105.00" cy="195.11" r="1.95"/><circle cx="1105.50" cy="193.15" r="1.95"/><circle cx="1106.00" cy="191.09" r="1.95"/><circle cx="1106.50" cy="188.86" r="1.95"/><circle cx="1107.00" cy="186.44" r="1.95"/><circle cx="1107.50" cy="183.92" r="1.95"/><circle cx="1108.00" cy="181.33" r="1.95"/><circle cx="1108.50" cy="178.76" r="1.95"/><circle cx="1109.00" cy="176.25" r="1.95"/><circle cx="1109.50" cy="173.75" r="1.95"/><circle cx="1110.00" cy="171.25" r="1.95"/><circle cx="1110.50" cy="168.75" r="1.95"/><circle cx="1111.00" cy="166.25" r="1.95"/><circle cx="1111.50" cy="163.75" r="1.95"/><circle cx="1112.00" cy="161.25" r="1.95"/><circle cx="1112.50" cy="158.75" r="1.95"/><circle cx="1113.00" cy="156.25" r="1.95"/><circle cx="1113.50" cy="153.75" r="1.95"/><circle cx="1114.00" cy="151.26" r="1.95"/><circle cx="1114.50" cy="148.82" r="1.95"/><circle cx="1115.00" cy="146.38" r="1.95"/><circle cx="1115.50" cy="143.90" r="1.95"/><circle cx="1116.00" cy="141.33" r="1.95"/><circle cx="1116.50" cy="138.55" r="1.95"/><circle cx="1117.00" cy="135.38" r="1.95"/><circle cx="1117.50" cy="132.50" r="1.95"/><circle cx="1118.00" cy="130.06" r="1.95"/><circle cx="1118.50" cy="127.71" r="1.95"/><circle cx="1119.00" cy="125.50" r="1.95"/><circle cx="1119.50" cy="123.45" r="1.95"/><circle cx="1120.00" cy="121.61" r="1.95"/><circle cx="1120.65" cy="119.56" r="1.95"/><circle cx="1121.30" cy="117.76" r="1.95"/><circle cx="1121.95" cy="116.08" r="1.95"/><circle cx="1122.60" cy="114.49" r="1.95"/><circle cx="1123.25" cy="112.95" r="1.95"/><circle cx="1123.90" cy="111.42" r="1.95"/><circle cx="1124.55" cy="109.88" r="1.95"/><circle cx="1125.20" cy="108.34" r="1.95"/><circle cx="1125.85" cy="106.81" r="1.95"/><circle cx="1126.50" cy="105.30" r="1.95"/><circle cx="1127.15" cy="103.79" r="1.95"/><circle cx="1127.80" cy="102.27" r="1.95"/><circle cx="1128.45" cy="100.72" r="1.95"/><circle cx="1129.10" cy="99.15" r="1.95"/><circle cx="1129.75" cy="97.55" r="1.95"/><circle cx="1130.40" cy="95.93" r="1.95"/><circle cx="1131.05" cy="94.30" r="1.95"/><circle cx="1131.70" cy="92.66" r="1.95"/><circle cx="1132.35" cy="91.02" r="1.95"/><circle cx="1133.00" cy="89.38" r="1.95"/><circle cx="1133.65" cy="87.75" r="1.95"/><circle cx="1134.30" cy="86.12" r="1.95"/><circle cx="1134.95" cy="84.48" r="1.95"/><circle cx="1135.60" cy="82.84" r="1.95"/><circle cx="1136.25" cy="81.20" r="1.95"/><circle cx="1136.90" cy="79.56" r="1.95"/><circle cx="1137.55" cy="77.94" r="1.95"/><circle cx="1138.20" cy="76.34" r="1.95"/><circle cx="1138.85" cy="74.76" r="1.95"/><circle cx="1139.50" cy="73.09" r="1.95"/><circle cx="1140.15" cy="71.38" r="1.95"/><circle cx="1140.80" cy="69.76" r="1.95"/><circle cx="1141.45" cy="68.38" r="1.95"/><circle cx="1142.10" cy="67.37" r="1.95"/><circle cx="1142.75" cy="66.58" r="1.95"/><circle cx="1143.40" cy="65.94" r="1.95"/><circle cx="1144.05" cy="65.56" r="1.95"/><circle cx="1144.70" cy="65.52" r="1.95"/><circle cx="1145.35" cy="65.60" r="1.95"/><circle cx="1146.00" cy="65.69" r="1.95"/><circle cx="1146.65" cy="65.81" r="1.95"/><circle cx="1147.30" cy="65.93" r="1.95"/><circle cx="1147.95" cy="66.07" r="1.95"/><circle cx="1148.60" cy="66.22" r="1.95"/><circle cx="1149.25" cy="66.37" r="1.95"/><circle cx="1149.90" cy="66.55" r="1.95"/><circle cx="1150.55" cy="66.73" r="1.95"/><circle cx="1151.20" cy="66.92" r="1.95"/><circle cx="1151.85" cy="67.10" r="1.95"/><circle cx="1152.50" cy="67.26" r="1.95"/><circle cx="1153.15" cy="67.40" r="1.95"/><circle cx="1153.80" cy="67.51" r="1.95"/><circle cx="1154.45" cy="67.54" r="1.95"/><circle cx="1155.10" cy="67.48" r="1.95"/><circle cx="1155.75" cy="67.34" r="1.95"/><circle cx="1156.40" cy="67.15" r="1.95"/><circle cx="1157.05" cy="66.92" r="1.95"/><circle cx="1157.70" cy="66.66" r="1.95"/><circle cx="1158.35" cy="66.40" r="1.95"/><circle cx="1159.00" cy="66.15" r="1.95"/><circle cx="1159.65" cy="65.83" r="1.95"/><circle cx="1160.30" cy="65.43" r="1.95"/><circle cx="1160.95" cy="64.97" r="1.95"/><circle cx="1161.60" cy="64.45" r="1.95"/><circle cx="1162.25" cy="63.89" r="1.95"/><circle cx="1162.90" cy="63.30" r="1.95"/><circle cx="1163.55" cy="62.69" r="1.95"/><circle cx="1164.20" cy="62.04" r="1.95"/><circle cx="1164.85" cy="61.28" r="1.95"/><circle cx="1165.50" cy="60.43" r="1.95"/><circle cx="1166.15" cy="59.54" r="1.95"/><circle cx="1166.80" cy="58.64" r="1.95"/><circle cx="1167.45" cy="57.77" r="1.95"/><circle cx="1168.10" cy="56.96" r="1.95"/><circle cx="1168.75" cy="56.25" r="1.95"/><circle cx="1169.40" cy="55.59" r="1.95"/><circle cx="1170.05" cy="54.95" r="1.95"/><circle cx="1170.70" cy="54.35" r="1.95"/><circle cx="1171.35" cy="53.84" r="1.95"/><circle cx="1172.00" cy="53.45" r="1.95"/><circle cx="1172.65" cy="53.21" r="1.95"/><circle cx="1173.30" cy="53.05" r="1.95"/><circle cx="1173.95" cy="52.92" r="1.95"/><circle cx="1174.60" cy="52.86" r="1.95"/><circle cx="1175.25" cy="52.85" r="1.95"/><circle cx="1175.90" cy="52.93" r="1.95"/><circle cx="1176.55" cy="53.08" r="1.95"/><circle cx="1177.20" cy="53.28" r="1.95"/><circle cx="1177.85" cy="53.51" r="1.95"/><circle cx="1178.50" cy="53.77" r="1.95"/><circle cx="1179.15" cy="54.05" r="1.95"/><circle cx="1179.80" cy="54.34" r="1.95"/><circle cx="1180.45" cy="54.64" r="1.95"/><circle cx="1181.10" cy="54.93" r="1.95"/><circle cx="1181.75" cy="55.25" r="1.95"/><circle cx="1182.40" cy="55.62" r="1.95"/><circle cx="1183.05" cy="56.04" r="1.95"/><circle cx="1183.70" cy="56.45" r="1.95"/><circle cx="1184.35" cy="56.83" r="1.95"/><circle cx="1186.15" cy="57.49" r="1.95"/><circle cx="1187.95" cy="57.58" r="1.95"/><circle cx="1189.75" cy="57.58" r="1.95"/><circle cx="1191.55" cy="57.53" r="1.95"/><circle cx="1193.35" cy="57.46" r="1.95"/><circle cx="1195.15" cy="57.31" r="1.95"/><circle cx="1196.95" cy="57.14" r="1.95"/><circle cx="1198.75" cy="57.02" r="1.95"/><circle cx="1200.55" cy="57.05" r="1.95"/><circle cx="1202.35" cy="57.74" r="1.95"/><circle cx="1205.17" cy="59.33" r="1.95"/><circle cx="1208.02" cy="60.88" r="1.95"/><circle cx="1210.92" cy="62.47" r="1.95"/><circle cx="1213.85" cy="63.86" r="1.95"/><circle cx="1216.82" cy="65.11" r="1.95"/><circle cx="1219.83" cy="66.20" r="1.95"/><circle cx="1222.88" cy="67.14" r="1.95"/><circle cx="1225.96" cy="67.94" r="1.95"/><circle cx="1229.09" cy="68.50" r="1.95"/><circle cx="1232.25" cy="68.77" r="1.95"/><circle cx="1235.45" cy="68.52" r="1.95"/><circle cx="1238.69" cy="67.50" r="1.95"/><circle cx="1241.96" cy="66.13" r="1.95"/><circle cx="1245.28" cy="64.31" r="1.95"/><circle cx="1248.63" cy="62.30" r="1.95"/><circle cx="1252.02" cy="60.01" r="1.95"/><circle cx="1255.45" cy="58.03" r="1.95"/><circle cx="1258.92" cy="56.45" r="1.95"/><circle cx="1262.43" cy="55.51" r="1.95"/><circle cx="1265.97" cy="55.19" r="1.95"/><circle cx="1269.55" cy="55.01" r="1.95"/><circle cx="1273.17" cy="55.01" r="1.95"/><circle cx="1276.83" cy="55.04" r="1.95"/><circle cx="1280.53" cy="54.98" r="1.95"/><circle cx="1284.26" cy="54.68" r="1.95"/><circle cx="1288.04" cy="54.34" r="1.95"/><circle cx="1291.85" cy="54.22" r="1.95"/><circle cx="1295.70" cy="54.22" r="1.95"/><circle cx="1299.59" cy="54.25" r="1.95"/><circle cx="1303.51" cy="54.30" r="1.95"/><circle cx="1307.48" cy="54.41" r="1.95"/><circle cx="1311.48" cy="54.61" r="1.95"/><circle cx="1315.52" cy="55.31" r="1.95"/><circle cx="1319.60" cy="56.30" r="1.95"/><circle cx="1323.72" cy="57.75" r="1.95"/><circle cx="1327.87" cy="59.52" r="1.95"/><circle cx="1332.07" cy="61.55" r="1.95"/><circle cx="1336.30" cy="63.61" r="1.95"/><circle cx="1340.57" cy="65.12" r="1.95"/><circle cx="1344.88" cy="65.53" r="1.95"/><circle cx="1349.22" cy="65.13" r="1.95"/><circle cx="1353.61" cy="63.81" r="1.95"/><circle cx="1358.03" cy="61.18" r="1.95"/><circle cx="1362.49" cy="58.47" r="1.95"/><circle cx="1366.99" cy="55.84" r="1.95"/><circle cx="1371.53" cy="53.44" r="1.95"/><circle cx="1376.11" cy="51.68" r="1.95"/><circle cx="1380.72" cy="50.66" r="1.95"/><circle cx="1385.38" cy="50.53" r="1.95"/><circle cx="1390.07" cy="51.34" r="1.95"/><circle cx="1394.80" cy="52.80" r="1.95"/><circle cx="1399.56" cy="54.82" r="1.95"/><circle cx="1404.37" cy="56.82" r="1.95"/><circle cx="1409.22" cy="58.57" r="1.95"/><circle cx="1414.10" cy="59.87" r="1.95"/><circle cx="1419.02" cy="60.42" r="1.95"/><circle cx="1423.98" cy="60.43" r="1.95"/><circle cx="1428.98" cy="60.07" r="1.95"/><circle cx="1434.01" cy="59.69" r="1.95"/><circle cx="1439.09" cy="59.31" r="1.95"/><circle cx="1444.20" cy="59.02" r="1.95"/><circle cx="1449.35" cy="58.80" r="1.95"/>
</g>
<text x="1128.20" y="592.10" font-size="23.30" font-weight="normal" fill="#000" text-anchor="middle" stroke="#000" stroke-width="0.3" stroke-linejoin="round">7720</text>
<text x="1232.10" y="592.10" font-size="23.30" font-weight="normal" fill="#000" text-anchor="middle" stroke="#000" stroke-width="0.3" stroke-linejoin="round">7760</text>
<text x="1335.90" y="592.10" font-size="23.30" font-weight="normal" fill="#000" text-anchor="middle" stroke="#000" stroke-width="0.3" stroke-linejoin="round">7800</text>
<text x="1439.80" y="592.10" font-size="23.30" font-weight="normal" fill="#000" text-anchor="middle" stroke="#000" stroke-width="0.3" stroke-linejoin="round">7840</text>
<text x="1284.40" y="623.20" font-size="22.90" font-weight="normal" fill="#000" text-anchor="middle" stroke="#000" stroke-width="0.3" stroke-linejoin="round">Energy (eV)</text>
<text x="1417.00" y="527.60" font-size="19.50" font-weight="normal" fill="#000" text-anchor="start" stroke="#000" stroke-width="0.3" stroke-linejoin="round">(c)</text>
<text x="1338.80" y="430.10" font-size="19.30" font-weight="normal" fill="#000" text-anchor="start" text-decoration="underline" stroke="#000" stroke-width="0.3" stroke-linejoin="round">Co K-edge</text>
<text x="1113.10" y="118.00" font-size="16.00" font-weight="bold" fill="#000" text-anchor="middle" stroke="#000" stroke-width="0.45" stroke-linejoin="round">2</text>
<text x="1142.90" y="57.50" font-size="16.00" font-weight="bold" fill="#000" text-anchor="middle" stroke="#000" stroke-width="0.45" stroke-linejoin="round">3</text>
<text x="1174.40" y="45.00" font-size="16.00" font-weight="bold" fill="#000" text-anchor="middle" stroke="#000" stroke-width="0.45" stroke-linejoin="round">4</text>
<text x="1206.30" y="50.50" font-size="16.00" font-weight="bold" fill="#000" text-anchor="middle" stroke="#000" stroke-width="0.45" stroke-linejoin="round">5</text>
<text x="1268.10" y="47.50" font-size="16.00" font-weight="bold" fill="#000" text-anchor="middle" stroke="#000" stroke-width="0.45" stroke-linejoin="round">6</text>
<text x="1318.30" y="50.00" font-size="16.00" font-weight="bold" fill="#000" text-anchor="middle" stroke="#000" stroke-width="0.45" stroke-linejoin="round">7</text>
<text x="1382.50" y="45.00" font-size="16.00" font-weight="bold" fill="#000" text-anchor="middle" stroke="#000" stroke-width="0.45" stroke-linejoin="round">8</text>
<text x="1093.00" y="206.00" font-size="16.00" font-weight="bold" fill="#000" text-anchor="middle" stroke="#000" stroke-width="0.45" stroke-linejoin="round">1</text>
<text x="1460.70" y="62.40" font-size="19.50" font-weight="bold" fill="#000" text-anchor="start" stroke="#000" stroke-width="0.45" stroke-linejoin="round">Exp.</text>
<text x="1463.00" y="161.00" font-size="19.50" font-weight="bold" fill="#ff0000" text-anchor="start" stroke="#ff0000" stroke-width="0.45" stroke-linejoin="round">L2<tspan font-size="12.5" dy="4.5">1</tspan></text>
<text x="1460.50" y="219.40" font-size="19.50" font-weight="bold" fill="#ff00ff" text-anchor="start" stroke="#ff00ff" stroke-width="0.45" stroke-linejoin="round">CoMn</text>
<text x="1457.00" y="266.00" font-size="19.50" font-weight="bold" fill="#008000" text-anchor="start" stroke="#008000" stroke-width="0.45" stroke-linejoin="round">CoAl</text>
<text x="1461.20" y="323.60" font-size="17.50" font-weight="bold" fill="#0000ff" text-anchor="start" stroke="#0000ff" stroke-width="0.45" stroke-linejoin="round">B2 (CoMn+CoAl)</text>
</g>
</svg></body></html>
